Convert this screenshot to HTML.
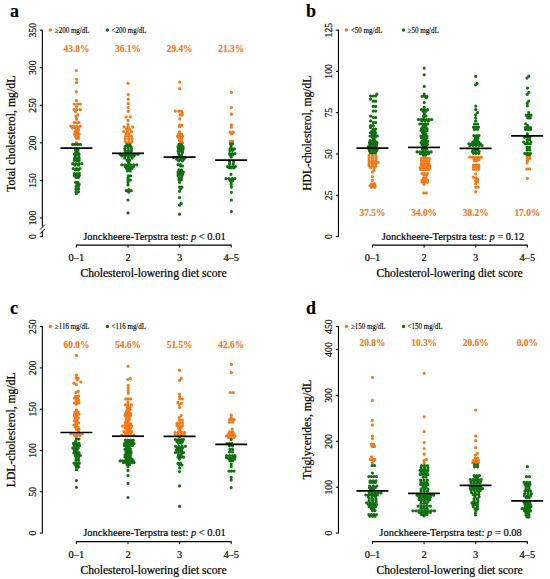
<!DOCTYPE html>
<html><head><meta charset="utf-8"><style>
html,body{margin:0;padding:0;background:#fff;}
svg{display:block;font-family:"Liberation Serif", serif;}
</style></head><body>
<svg width="550" height="579" viewBox="0 0 550 579">
<rect width="550" height="579" fill="#fff"/>
<text x="10.00" y="17.40" font-size="18" font-weight="bold" text-anchor="start" fill="#000" stroke="#000" stroke-width="0.15">a</text>
<line x1="42.35" y1="29.70" x2="42.35" y2="226.60" stroke="#000" stroke-width="1.1"/>
<line x1="42.35" y1="231.00" x2="42.35" y2="237.10" stroke="#000" stroke-width="1.1"/>
<path d="M40.05 229.50 L44.85 224.60 M40.05 233.70 L44.85 228.80" stroke="#000" stroke-width="1.0" fill="none"/>
<line x1="39.75" y1="30.20" x2="42.35" y2="30.20" stroke="#000" stroke-width="1.0"/>
<text x="36.20" y="30.20" font-size="9.8" font-weight="normal" text-anchor="middle" fill="#000" stroke="#000" stroke-width="0.178" transform="rotate(-90 36.20 30.20)">350</text>
<line x1="39.75" y1="67.76" x2="42.35" y2="67.76" stroke="#000" stroke-width="1.0"/>
<text x="36.20" y="67.76" font-size="9.8" font-weight="normal" text-anchor="middle" fill="#000" stroke="#000" stroke-width="0.178" transform="rotate(-90 36.20 67.76)">300</text>
<line x1="39.75" y1="105.32" x2="42.35" y2="105.32" stroke="#000" stroke-width="1.0"/>
<text x="36.20" y="105.32" font-size="9.8" font-weight="normal" text-anchor="middle" fill="#000" stroke="#000" stroke-width="0.178" transform="rotate(-90 36.20 105.32)">250</text>
<line x1="39.75" y1="142.88" x2="42.35" y2="142.88" stroke="#000" stroke-width="1.0"/>
<text x="36.20" y="142.88" font-size="9.8" font-weight="normal" text-anchor="middle" fill="#000" stroke="#000" stroke-width="0.178" transform="rotate(-90 36.20 142.88)">200</text>
<line x1="39.75" y1="180.44" x2="42.35" y2="180.44" stroke="#000" stroke-width="1.0"/>
<text x="36.20" y="180.44" font-size="9.8" font-weight="normal" text-anchor="middle" fill="#000" stroke="#000" stroke-width="0.178" transform="rotate(-90 36.20 180.44)">150</text>
<line x1="39.75" y1="218.00" x2="42.35" y2="218.00" stroke="#000" stroke-width="1.0"/>
<text x="36.20" y="218.00" font-size="9.8" font-weight="normal" text-anchor="middle" fill="#000" stroke="#000" stroke-width="0.178" transform="rotate(-90 36.20 218.00)">100</text>
<line x1="39.75" y1="236.60" x2="42.35" y2="236.60" stroke="#000" stroke-width="1.0"/>
<text x="36.20" y="236.60" font-size="9.8" font-weight="normal" text-anchor="middle" fill="#000" stroke="#000" stroke-width="0.178" transform="rotate(-90 36.20 236.60)">0</text>
<text x="15.30" y="133.70" font-size="11.8" font-weight="normal" text-anchor="middle" fill="#000" stroke="#000" stroke-width="0.215" transform="rotate(-90 15.30 133.70)">Total cholesterol, mg/dL</text>
<circle cx="50.30" cy="30.10" r="1.75" fill="#f27a18"/>
<text x="54.80" y="32.60" font-size="7.6" font-weight="normal" text-anchor="start" fill="#000" stroke="#000" stroke-width="0.138" textLength="34.76" lengthAdjust="spacingAndGlyphs">≥200 mg/dL</text>
<circle cx="107.40" cy="30.10" r="1.75" fill="#107010"/>
<text x="111.50" y="32.60" font-size="7.6" font-weight="normal" text-anchor="start" fill="#000" stroke="#000" stroke-width="0.138" textLength="34.86" lengthAdjust="spacingAndGlyphs">&lt;200 mg/dL</text>
<text x="76.40" y="52.20" font-size="9.4" font-weight="bold" text-anchor="middle" fill="#f27a18" stroke="#f27a18" stroke-width="0.15">43.8%</text>
<text x="128.00" y="52.20" font-size="9.4" font-weight="bold" text-anchor="middle" fill="#f27a18" stroke="#f27a18" stroke-width="0.15">36.1%</text>
<text x="179.60" y="52.20" font-size="9.4" font-weight="bold" text-anchor="middle" fill="#f27a18" stroke="#f27a18" stroke-width="0.15">29.4%</text>
<text x="231.20" y="52.20" font-size="9.4" font-weight="bold" text-anchor="middle" fill="#f27a18" stroke="#f27a18" stroke-width="0.15">21.3%</text>
<line x1="76.40" y1="245.10" x2="231.20" y2="245.10" stroke="#000" stroke-width="1.1"/>
<line x1="76.40" y1="244.60" x2="76.40" y2="247.60" stroke="#000" stroke-width="1.0"/>
<line x1="128.00" y1="244.60" x2="128.00" y2="247.60" stroke="#000" stroke-width="1.0"/>
<line x1="179.60" y1="244.60" x2="179.60" y2="247.60" stroke="#000" stroke-width="1.0"/>
<line x1="231.20" y1="244.60" x2="231.20" y2="247.60" stroke="#000" stroke-width="1.0"/>
<text x="154.50" y="239.60" font-size="10.5" font-weight="normal" text-anchor="middle" fill="#000" stroke="#000" stroke-width="0.191">Jonckheere-Terpstra test: <tspan font-style="italic">p</tspan> &lt; 0.01</text>
<text x="76.40" y="261.00" font-size="10.4" font-weight="normal" text-anchor="middle" fill="#000" stroke="#000" stroke-width="0.189">0–1</text>
<text x="128.00" y="261.00" font-size="10.4" font-weight="normal" text-anchor="middle" fill="#000" stroke="#000" stroke-width="0.189">2</text>
<text x="179.60" y="261.00" font-size="10.4" font-weight="normal" text-anchor="middle" fill="#000" stroke="#000" stroke-width="0.189">3</text>
<text x="231.20" y="261.00" font-size="10.4" font-weight="normal" text-anchor="middle" fill="#000" stroke="#000" stroke-width="0.189">4–5</text>
<text x="153.50" y="277.40" font-size="11.6" font-weight="normal" text-anchor="middle" fill="#000" stroke="#000" stroke-width="0.211">Cholesterol-lowering diet score</text>
<text x="306.10" y="17.40" font-size="18" font-weight="bold" text-anchor="start" fill="#000" stroke="#000" stroke-width="0.15">b</text>
<line x1="338.45" y1="29.60" x2="338.45" y2="237.10" stroke="#000" stroke-width="1.1"/>
<line x1="335.85" y1="30.10" x2="338.45" y2="30.10" stroke="#000" stroke-width="1.0"/>
<text x="332.30" y="30.10" font-size="9.8" font-weight="normal" text-anchor="middle" fill="#000" stroke="#000" stroke-width="0.178" transform="rotate(-90 332.30 30.10)">125</text>
<line x1="335.85" y1="71.40" x2="338.45" y2="71.40" stroke="#000" stroke-width="1.0"/>
<text x="332.30" y="71.40" font-size="9.8" font-weight="normal" text-anchor="middle" fill="#000" stroke="#000" stroke-width="0.178" transform="rotate(-90 332.30 71.40)">100</text>
<line x1="335.85" y1="112.70" x2="338.45" y2="112.70" stroke="#000" stroke-width="1.0"/>
<text x="332.30" y="112.70" font-size="9.8" font-weight="normal" text-anchor="middle" fill="#000" stroke="#000" stroke-width="0.178" transform="rotate(-90 332.30 112.70)">75</text>
<line x1="335.85" y1="154.00" x2="338.45" y2="154.00" stroke="#000" stroke-width="1.0"/>
<text x="332.30" y="154.00" font-size="9.8" font-weight="normal" text-anchor="middle" fill="#000" stroke="#000" stroke-width="0.178" transform="rotate(-90 332.30 154.00)">50</text>
<line x1="335.85" y1="195.30" x2="338.45" y2="195.30" stroke="#000" stroke-width="1.0"/>
<text x="332.30" y="195.30" font-size="9.8" font-weight="normal" text-anchor="middle" fill="#000" stroke="#000" stroke-width="0.178" transform="rotate(-90 332.30 195.30)">25</text>
<line x1="335.85" y1="236.60" x2="338.45" y2="236.60" stroke="#000" stroke-width="1.0"/>
<text x="332.30" y="236.60" font-size="9.8" font-weight="normal" text-anchor="middle" fill="#000" stroke="#000" stroke-width="0.178" transform="rotate(-90 332.30 236.60)">0</text>
<text x="311.40" y="133.20" font-size="11.6" font-weight="normal" text-anchor="middle" fill="#000" stroke="#000" stroke-width="0.211" transform="rotate(-90 311.40 133.20)">HDL-cholesterol, mg/dL</text>
<circle cx="346.40" cy="30.10" r="1.75" fill="#f27a18"/>
<text x="350.90" y="32.60" font-size="7.6" font-weight="normal" text-anchor="start" fill="#000" stroke="#000" stroke-width="0.138" textLength="31.36" lengthAdjust="spacingAndGlyphs">&lt;50 mg/dL</text>
<circle cx="403.50" cy="30.10" r="1.75" fill="#107010"/>
<text x="407.60" y="32.60" font-size="7.6" font-weight="normal" text-anchor="start" fill="#000" stroke="#000" stroke-width="0.138" textLength="31.26" lengthAdjust="spacingAndGlyphs">≥50 mg/dL</text>
<text x="372.50" y="215.70" font-size="9.4" font-weight="bold" text-anchor="middle" fill="#f27a18" stroke="#f27a18" stroke-width="0.15">37.5%</text>
<text x="424.10" y="215.70" font-size="9.4" font-weight="bold" text-anchor="middle" fill="#f27a18" stroke="#f27a18" stroke-width="0.15">34.0%</text>
<text x="475.70" y="215.70" font-size="9.4" font-weight="bold" text-anchor="middle" fill="#f27a18" stroke="#f27a18" stroke-width="0.15">38.2%</text>
<text x="527.30" y="215.70" font-size="9.4" font-weight="bold" text-anchor="middle" fill="#f27a18" stroke="#f27a18" stroke-width="0.15">17.0%</text>
<line x1="372.50" y1="245.10" x2="527.30" y2="245.10" stroke="#000" stroke-width="1.1"/>
<line x1="372.50" y1="244.60" x2="372.50" y2="247.60" stroke="#000" stroke-width="1.0"/>
<line x1="424.10" y1="244.60" x2="424.10" y2="247.60" stroke="#000" stroke-width="1.0"/>
<line x1="475.70" y1="244.60" x2="475.70" y2="247.60" stroke="#000" stroke-width="1.0"/>
<line x1="527.30" y1="244.60" x2="527.30" y2="247.60" stroke="#000" stroke-width="1.0"/>
<text x="453.00" y="239.60" font-size="10.5" font-weight="normal" text-anchor="middle" fill="#000" stroke="#000" stroke-width="0.191">Jonckheere-Terpstra test: <tspan font-style="italic">p</tspan> = 0.12</text>
<text x="372.50" y="261.00" font-size="10.4" font-weight="normal" text-anchor="middle" fill="#000" stroke="#000" stroke-width="0.189">0–1</text>
<text x="424.10" y="261.00" font-size="10.4" font-weight="normal" text-anchor="middle" fill="#000" stroke="#000" stroke-width="0.189">2</text>
<text x="475.70" y="261.00" font-size="10.4" font-weight="normal" text-anchor="middle" fill="#000" stroke="#000" stroke-width="0.189">3</text>
<text x="527.30" y="261.00" font-size="10.4" font-weight="normal" text-anchor="middle" fill="#000" stroke="#000" stroke-width="0.189">4–5</text>
<text x="449.60" y="277.40" font-size="11.6" font-weight="normal" text-anchor="middle" fill="#000" stroke="#000" stroke-width="0.211">Cholesterol-lowering diet score</text>
<text x="10.00" y="313.90" font-size="18" font-weight="bold" text-anchor="start" fill="#000" stroke="#000" stroke-width="0.15">c</text>
<line x1="42.35" y1="326.10" x2="42.35" y2="533.60" stroke="#000" stroke-width="1.1"/>
<line x1="39.75" y1="326.60" x2="42.35" y2="326.60" stroke="#000" stroke-width="1.0"/>
<text x="36.20" y="326.60" font-size="9.8" font-weight="normal" text-anchor="middle" fill="#000" stroke="#000" stroke-width="0.178" transform="rotate(-90 36.20 326.60)">250</text>
<line x1="39.75" y1="367.90" x2="42.35" y2="367.90" stroke="#000" stroke-width="1.0"/>
<text x="36.20" y="367.90" font-size="9.8" font-weight="normal" text-anchor="middle" fill="#000" stroke="#000" stroke-width="0.178" transform="rotate(-90 36.20 367.90)">200</text>
<line x1="39.75" y1="409.20" x2="42.35" y2="409.20" stroke="#000" stroke-width="1.0"/>
<text x="36.20" y="409.20" font-size="9.8" font-weight="normal" text-anchor="middle" fill="#000" stroke="#000" stroke-width="0.178" transform="rotate(-90 36.20 409.20)">150</text>
<line x1="39.75" y1="450.50" x2="42.35" y2="450.50" stroke="#000" stroke-width="1.0"/>
<text x="36.20" y="450.50" font-size="9.8" font-weight="normal" text-anchor="middle" fill="#000" stroke="#000" stroke-width="0.178" transform="rotate(-90 36.20 450.50)">100</text>
<line x1="39.75" y1="491.80" x2="42.35" y2="491.80" stroke="#000" stroke-width="1.0"/>
<text x="36.20" y="491.80" font-size="9.8" font-weight="normal" text-anchor="middle" fill="#000" stroke="#000" stroke-width="0.178" transform="rotate(-90 36.20 491.80)">50</text>
<line x1="39.75" y1="533.10" x2="42.35" y2="533.10" stroke="#000" stroke-width="1.0"/>
<text x="36.20" y="533.10" font-size="9.8" font-weight="normal" text-anchor="middle" fill="#000" stroke="#000" stroke-width="0.178" transform="rotate(-90 36.20 533.10)">0</text>
<text x="15.30" y="429.80" font-size="11.7" font-weight="normal" text-anchor="middle" fill="#000" stroke="#000" stroke-width="0.213" transform="rotate(-90 15.30 429.80)">LDL-cholesterol, mg/dL</text>
<circle cx="50.30" cy="326.60" r="1.75" fill="#f27a18"/>
<text x="54.80" y="329.10" font-size="7.6" font-weight="normal" text-anchor="start" fill="#000" stroke="#000" stroke-width="0.138" textLength="34.5" lengthAdjust="spacingAndGlyphs">≥116 mg/dL</text>
<circle cx="107.40" cy="326.60" r="1.75" fill="#107010"/>
<text x="111.50" y="329.10" font-size="7.6" font-weight="normal" text-anchor="start" fill="#000" stroke="#000" stroke-width="0.138" textLength="34.6" lengthAdjust="spacingAndGlyphs">&lt;116 mg/dL</text>
<text x="76.40" y="348.20" font-size="9.4" font-weight="bold" text-anchor="middle" fill="#f27a18" stroke="#f27a18" stroke-width="0.15">60.0%</text>
<text x="128.00" y="348.20" font-size="9.4" font-weight="bold" text-anchor="middle" fill="#f27a18" stroke="#f27a18" stroke-width="0.15">54.6%</text>
<text x="179.60" y="348.20" font-size="9.4" font-weight="bold" text-anchor="middle" fill="#f27a18" stroke="#f27a18" stroke-width="0.15">51.5%</text>
<text x="231.20" y="348.20" font-size="9.4" font-weight="bold" text-anchor="middle" fill="#f27a18" stroke="#f27a18" stroke-width="0.15">42.6%</text>
<line x1="76.40" y1="541.60" x2="231.20" y2="541.60" stroke="#000" stroke-width="1.1"/>
<line x1="76.40" y1="541.10" x2="76.40" y2="544.10" stroke="#000" stroke-width="1.0"/>
<line x1="128.00" y1="541.10" x2="128.00" y2="544.10" stroke="#000" stroke-width="1.0"/>
<line x1="179.60" y1="541.10" x2="179.60" y2="544.10" stroke="#000" stroke-width="1.0"/>
<line x1="231.20" y1="541.10" x2="231.20" y2="544.10" stroke="#000" stroke-width="1.0"/>
<text x="154.50" y="536.10" font-size="10.5" font-weight="normal" text-anchor="middle" fill="#000" stroke="#000" stroke-width="0.191">Jonckheere-Terpstra test: <tspan font-style="italic">p</tspan> &lt; 0.01</text>
<text x="76.40" y="557.50" font-size="10.4" font-weight="normal" text-anchor="middle" fill="#000" stroke="#000" stroke-width="0.189">0–1</text>
<text x="128.00" y="557.50" font-size="10.4" font-weight="normal" text-anchor="middle" fill="#000" stroke="#000" stroke-width="0.189">2</text>
<text x="179.60" y="557.50" font-size="10.4" font-weight="normal" text-anchor="middle" fill="#000" stroke="#000" stroke-width="0.189">3</text>
<text x="231.20" y="557.50" font-size="10.4" font-weight="normal" text-anchor="middle" fill="#000" stroke="#000" stroke-width="0.189">4–5</text>
<text x="153.50" y="573.90" font-size="11.6" font-weight="normal" text-anchor="middle" fill="#000" stroke="#000" stroke-width="0.211">Cholesterol-lowering diet score</text>
<text x="306.10" y="313.90" font-size="18" font-weight="bold" text-anchor="start" fill="#000" stroke="#000" stroke-width="0.15">d</text>
<line x1="338.45" y1="326.10" x2="338.45" y2="533.60" stroke="#000" stroke-width="1.1"/>
<line x1="335.85" y1="326.60" x2="338.45" y2="326.60" stroke="#000" stroke-width="1.0"/>
<text x="332.30" y="326.60" font-size="9.8" font-weight="normal" text-anchor="middle" fill="#000" stroke="#000" stroke-width="0.178" transform="rotate(-90 332.30 326.60)">450</text>
<line x1="335.85" y1="349.54" x2="338.45" y2="349.54" stroke="#000" stroke-width="1.0"/>
<text x="332.30" y="349.54" font-size="9.8" font-weight="normal" text-anchor="middle" fill="#000" stroke="#000" stroke-width="0.178" transform="rotate(-90 332.30 349.54)">400</text>
<line x1="335.85" y1="395.43" x2="338.45" y2="395.43" stroke="#000" stroke-width="1.0"/>
<text x="332.30" y="395.43" font-size="9.8" font-weight="normal" text-anchor="middle" fill="#000" stroke="#000" stroke-width="0.178" transform="rotate(-90 332.30 395.43)">300</text>
<line x1="335.85" y1="441.32" x2="338.45" y2="441.32" stroke="#000" stroke-width="1.0"/>
<text x="332.30" y="441.32" font-size="9.8" font-weight="normal" text-anchor="middle" fill="#000" stroke="#000" stroke-width="0.178" transform="rotate(-90 332.30 441.32)">200</text>
<line x1="335.85" y1="487.21" x2="338.45" y2="487.21" stroke="#000" stroke-width="1.0"/>
<text x="332.30" y="487.21" font-size="9.8" font-weight="normal" text-anchor="middle" fill="#000" stroke="#000" stroke-width="0.178" transform="rotate(-90 332.30 487.21)">100</text>
<line x1="335.85" y1="533.10" x2="338.45" y2="533.10" stroke="#000" stroke-width="1.0"/>
<text x="332.30" y="533.10" font-size="9.8" font-weight="normal" text-anchor="middle" fill="#000" stroke="#000" stroke-width="0.178" transform="rotate(-90 332.30 533.10)">0</text>
<text x="311.40" y="429.60" font-size="11.8" font-weight="normal" text-anchor="middle" fill="#000" stroke="#000" stroke-width="0.215" transform="rotate(-90 311.40 429.60)">Triglycerides, mg/dL</text>
<circle cx="346.40" cy="326.60" r="1.75" fill="#f27a18"/>
<text x="350.90" y="329.10" font-size="7.6" font-weight="normal" text-anchor="start" fill="#000" stroke="#000" stroke-width="0.138" textLength="34.76" lengthAdjust="spacingAndGlyphs">≥150 mg/dL</text>
<circle cx="403.50" cy="326.60" r="1.75" fill="#107010"/>
<text x="407.60" y="329.10" font-size="7.6" font-weight="normal" text-anchor="start" fill="#000" stroke="#000" stroke-width="0.138" textLength="34.86" lengthAdjust="spacingAndGlyphs">&lt;150 mg/dL</text>
<text x="372.50" y="346.10" font-size="9.4" font-weight="bold" text-anchor="middle" fill="#f27a18" stroke="#f27a18" stroke-width="0.15">20.8%</text>
<text x="424.10" y="346.10" font-size="9.4" font-weight="bold" text-anchor="middle" fill="#f27a18" stroke="#f27a18" stroke-width="0.15">10.3%</text>
<text x="475.70" y="346.10" font-size="9.4" font-weight="bold" text-anchor="middle" fill="#f27a18" stroke="#f27a18" stroke-width="0.15">20.6%</text>
<text x="527.30" y="346.10" font-size="9.4" font-weight="bold" text-anchor="middle" fill="#f27a18" stroke="#f27a18" stroke-width="0.15">0.0%</text>
<line x1="372.50" y1="541.60" x2="527.30" y2="541.60" stroke="#000" stroke-width="1.1"/>
<line x1="372.50" y1="541.10" x2="372.50" y2="544.10" stroke="#000" stroke-width="1.0"/>
<line x1="424.10" y1="541.10" x2="424.10" y2="544.10" stroke="#000" stroke-width="1.0"/>
<line x1="475.70" y1="541.10" x2="475.70" y2="544.10" stroke="#000" stroke-width="1.0"/>
<line x1="527.30" y1="541.10" x2="527.30" y2="544.10" stroke="#000" stroke-width="1.0"/>
<text x="450.60" y="536.10" font-size="10.5" font-weight="normal" text-anchor="middle" fill="#000" stroke="#000" stroke-width="0.191">Jonckheere-Terpstra test: <tspan font-style="italic">p</tspan> = 0.08</text>
<text x="372.50" y="557.50" font-size="10.4" font-weight="normal" text-anchor="middle" fill="#000" stroke="#000" stroke-width="0.189">0–1</text>
<text x="424.10" y="557.50" font-size="10.4" font-weight="normal" text-anchor="middle" fill="#000" stroke="#000" stroke-width="0.189">2</text>
<text x="475.70" y="557.50" font-size="10.4" font-weight="normal" text-anchor="middle" fill="#000" stroke="#000" stroke-width="0.189">3</text>
<text x="527.30" y="557.50" font-size="10.4" font-weight="normal" text-anchor="middle" fill="#000" stroke="#000" stroke-width="0.189">4–5</text>
<text x="449.60" y="573.90" font-size="11.6" font-weight="normal" text-anchor="middle" fill="#000" stroke="#000" stroke-width="0.211">Cholesterol-lowering diet score</text>
<path fill="#f27a18" d="M74.70 70.60a1.6 1.6 0 1 0 3.2 0a1.6 1.6 0 1 0 -3.2 0M75.00 79.30a1.6 1.6 0 1 0 3.2 0a1.6 1.6 0 1 0 -3.2 0M75.00 82.70a1.6 1.6 0 1 0 3.2 0a1.6 1.6 0 1 0 -3.2 0M74.70 91.80a1.6 1.6 0 1 0 3.2 0a1.6 1.6 0 1 0 -3.2 0M74.80 100.60a1.6 1.6 0 1 0 3.2 0a1.6 1.6 0 1 0 -3.2 0M72.60 104.00a1.6 1.6 0 1 0 3.2 0a1.6 1.6 0 1 0 -3.2 0M75.90 104.00a1.6 1.6 0 1 0 3.2 0a1.6 1.6 0 1 0 -3.2 0M78.70 104.00a1.6 1.6 0 1 0 3.2 0a1.6 1.6 0 1 0 -3.2 0M74.80 106.60a1.6 1.6 0 1 0 3.2 0a1.6 1.6 0 1 0 -3.2 0M72.60 109.70a1.6 1.6 0 1 0 3.2 0a1.6 1.6 0 1 0 -3.2 0M75.20 109.70a1.6 1.6 0 1 0 3.2 0a1.6 1.6 0 1 0 -3.2 0M78.70 109.70a1.6 1.6 0 1 0 3.2 0a1.6 1.6 0 1 0 -3.2 0M73.90 111.40a1.6 1.6 0 1 0 3.2 0a1.6 1.6 0 1 0 -3.2 0M76.10 114.80a1.6 1.6 0 1 0 3.2 0a1.6 1.6 0 1 0 -3.2 0M74.40 116.60a1.6 1.6 0 1 0 3.2 0a1.6 1.6 0 1 0 -3.2 0M74.80 119.20a1.6 1.6 0 1 0 3.2 0a1.6 1.6 0 1 0 -3.2 0M72.60 122.60a1.6 1.6 0 1 0 3.2 0a1.6 1.6 0 1 0 -3.2 0M75.20 122.60a1.6 1.6 0 1 0 3.2 0a1.6 1.6 0 1 0 -3.2 0M77.40 122.60a1.6 1.6 0 1 0 3.2 0a1.6 1.6 0 1 0 -3.2 0M69.20 126.10a1.6 1.6 0 1 0 3.2 0a1.6 1.6 0 1 0 -3.2 0M71.80 126.10a1.6 1.6 0 1 0 3.2 0a1.6 1.6 0 1 0 -3.2 0M75.20 126.10a1.6 1.6 0 1 0 3.2 0a1.6 1.6 0 1 0 -3.2 0M78.70 126.10a1.6 1.6 0 1 0 3.2 0a1.6 1.6 0 1 0 -3.2 0M70.90 127.80a1.6 1.6 0 1 0 3.2 0a1.6 1.6 0 1 0 -3.2 0M73.70 127.80a1.6 1.6 0 1 0 3.2 0a1.6 1.6 0 1 0 -3.2 0M76.70 127.80a1.6 1.6 0 1 0 3.2 0a1.6 1.6 0 1 0 -3.2 0M74.40 130.00a1.6 1.6 0 1 0 3.2 0a1.6 1.6 0 1 0 -3.2 0M76.90 130.00a1.6 1.6 0 1 0 3.2 0a1.6 1.6 0 1 0 -3.2 0M73.40 132.10a1.6 1.6 0 1 0 3.2 0a1.6 1.6 0 1 0 -3.2 0M76.20 132.10a1.6 1.6 0 1 0 3.2 0a1.6 1.6 0 1 0 -3.2 0M72.90 134.30a1.6 1.6 0 1 0 3.2 0a1.6 1.6 0 1 0 -3.2 0M75.40 134.30a1.6 1.6 0 1 0 3.2 0a1.6 1.6 0 1 0 -3.2 0M77.60 134.30a1.6 1.6 0 1 0 3.2 0a1.6 1.6 0 1 0 -3.2 0M74.10 136.40a1.6 1.6 0 1 0 3.2 0a1.6 1.6 0 1 0 -3.2 0M76.70 136.40a1.6 1.6 0 1 0 3.2 0a1.6 1.6 0 1 0 -3.2 0M74.80 138.30a1.6 1.6 0 1 0 3.2 0a1.6 1.6 0 1 0 -3.2 0M77.00 138.30a1.6 1.6 0 1 0 3.2 0a1.6 1.6 0 1 0 -3.2 0M74.80 142.50a1.6 1.6 0 1 0 3.2 0a1.6 1.6 0 1 0 -3.2 0M126.40 83.40a1.6 1.6 0 1 0 3.2 0a1.6 1.6 0 1 0 -3.2 0M126.60 94.60a1.6 1.6 0 1 0 3.2 0a1.6 1.6 0 1 0 -3.2 0M126.60 99.20a1.6 1.6 0 1 0 3.2 0a1.6 1.6 0 1 0 -3.2 0M126.60 103.70a1.6 1.6 0 1 0 3.2 0a1.6 1.6 0 1 0 -3.2 0M126.60 107.50a1.6 1.6 0 1 0 3.2 0a1.6 1.6 0 1 0 -3.2 0M126.60 111.40a1.6 1.6 0 1 0 3.2 0a1.6 1.6 0 1 0 -3.2 0M124.50 116.90a1.6 1.6 0 1 0 3.2 0a1.6 1.6 0 1 0 -3.2 0M128.70 116.90a1.6 1.6 0 1 0 3.2 0a1.6 1.6 0 1 0 -3.2 0M126.40 120.40a1.6 1.6 0 1 0 3.2 0a1.6 1.6 0 1 0 -3.2 0M126.40 124.30a1.6 1.6 0 1 0 3.2 0a1.6 1.6 0 1 0 -3.2 0M122.50 126.90a1.6 1.6 0 1 0 3.2 0a1.6 1.6 0 1 0 -3.2 0M126.40 126.90a1.6 1.6 0 1 0 3.2 0a1.6 1.6 0 1 0 -3.2 0M131.10 126.90a1.6 1.6 0 1 0 3.2 0a1.6 1.6 0 1 0 -3.2 0M124.90 129.10a1.6 1.6 0 1 0 3.2 0a1.6 1.6 0 1 0 -3.2 0M127.90 129.10a1.6 1.6 0 1 0 3.2 0a1.6 1.6 0 1 0 -3.2 0M122.10 131.70a1.6 1.6 0 1 0 3.2 0a1.6 1.6 0 1 0 -3.2 0M125.90 131.70a1.6 1.6 0 1 0 3.2 0a1.6 1.6 0 1 0 -3.2 0M129.90 131.70a1.6 1.6 0 1 0 3.2 0a1.6 1.6 0 1 0 -3.2 0M124.70 133.80a1.6 1.6 0 1 0 3.2 0a1.6 1.6 0 1 0 -3.2 0M127.40 133.80a1.6 1.6 0 1 0 3.2 0a1.6 1.6 0 1 0 -3.2 0M124.00 136.30a1.6 1.6 0 1 0 3.2 0a1.6 1.6 0 1 0 -3.2 0M126.90 136.30a1.6 1.6 0 1 0 3.2 0a1.6 1.6 0 1 0 -3.2 0M129.80 136.30a1.6 1.6 0 1 0 3.2 0a1.6 1.6 0 1 0 -3.2 0M123.60 138.70a1.6 1.6 0 1 0 3.2 0a1.6 1.6 0 1 0 -3.2 0M127.00 138.70a1.6 1.6 0 1 0 3.2 0a1.6 1.6 0 1 0 -3.2 0M130.40 138.70a1.6 1.6 0 1 0 3.2 0a1.6 1.6 0 1 0 -3.2 0M123.60 141.00a1.6 1.6 0 1 0 3.2 0a1.6 1.6 0 1 0 -3.2 0M127.00 141.00a1.6 1.6 0 1 0 3.2 0a1.6 1.6 0 1 0 -3.2 0M130.40 141.00a1.6 1.6 0 1 0 3.2 0a1.6 1.6 0 1 0 -3.2 0M124.50 143.00a1.6 1.6 0 1 0 3.2 0a1.6 1.6 0 1 0 -3.2 0M126.90 143.00a1.6 1.6 0 1 0 3.2 0a1.6 1.6 0 1 0 -3.2 0M129.30 143.00a1.6 1.6 0 1 0 3.2 0a1.6 1.6 0 1 0 -3.2 0M178.10 82.10a1.6 1.6 0 1 0 3.2 0a1.6 1.6 0 1 0 -3.2 0M178.10 88.70a1.6 1.6 0 1 0 3.2 0a1.6 1.6 0 1 0 -3.2 0M173.70 111.20a1.6 1.6 0 1 0 3.2 0a1.6 1.6 0 1 0 -3.2 0M177.10 111.20a1.6 1.6 0 1 0 3.2 0a1.6 1.6 0 1 0 -3.2 0M179.60 111.20a1.6 1.6 0 1 0 3.2 0a1.6 1.6 0 1 0 -3.2 0M180.70 112.60a1.6 1.6 0 1 0 3.2 0a1.6 1.6 0 1 0 -3.2 0M178.60 114.80a1.6 1.6 0 1 0 3.2 0a1.6 1.6 0 1 0 -3.2 0M180.70 114.80a1.6 1.6 0 1 0 3.2 0a1.6 1.6 0 1 0 -3.2 0M178.10 118.90a1.6 1.6 0 1 0 3.2 0a1.6 1.6 0 1 0 -3.2 0M178.00 125.20a1.6 1.6 0 1 0 3.2 0a1.6 1.6 0 1 0 -3.2 0M180.40 125.20a1.6 1.6 0 1 0 3.2 0a1.6 1.6 0 1 0 -3.2 0M177.90 126.70a1.6 1.6 0 1 0 3.2 0a1.6 1.6 0 1 0 -3.2 0M177.90 131.90a1.6 1.6 0 1 0 3.2 0a1.6 1.6 0 1 0 -3.2 0M177.10 134.10a1.6 1.6 0 1 0 3.2 0a1.6 1.6 0 1 0 -3.2 0M179.90 134.10a1.6 1.6 0 1 0 3.2 0a1.6 1.6 0 1 0 -3.2 0M175.90 136.20a1.6 1.6 0 1 0 3.2 0a1.6 1.6 0 1 0 -3.2 0M178.40 136.20a1.6 1.6 0 1 0 3.2 0a1.6 1.6 0 1 0 -3.2 0M180.90 136.20a1.6 1.6 0 1 0 3.2 0a1.6 1.6 0 1 0 -3.2 0M177.40 138.00a1.6 1.6 0 1 0 3.2 0a1.6 1.6 0 1 0 -3.2 0M179.90 138.00a1.6 1.6 0 1 0 3.2 0a1.6 1.6 0 1 0 -3.2 0M177.60 140.50a1.6 1.6 0 1 0 3.2 0a1.6 1.6 0 1 0 -3.2 0M180.10 140.50a1.6 1.6 0 1 0 3.2 0a1.6 1.6 0 1 0 -3.2 0M178.90 142.70a1.6 1.6 0 1 0 3.2 0a1.6 1.6 0 1 0 -3.2 0M180.90 142.70a1.6 1.6 0 1 0 3.2 0a1.6 1.6 0 1 0 -3.2 0M229.80 92.40a1.6 1.6 0 1 0 3.2 0a1.6 1.6 0 1 0 -3.2 0M229.80 107.50a1.6 1.6 0 1 0 3.2 0a1.6 1.6 0 1 0 -3.2 0M229.80 114.20a1.6 1.6 0 1 0 3.2 0a1.6 1.6 0 1 0 -3.2 0M229.80 124.80a1.6 1.6 0 1 0 3.2 0a1.6 1.6 0 1 0 -3.2 0M229.80 127.20a1.6 1.6 0 1 0 3.2 0a1.6 1.6 0 1 0 -3.2 0M228.60 132.20a1.6 1.6 0 1 0 3.2 0a1.6 1.6 0 1 0 -3.2 0M231.70 132.20a1.6 1.6 0 1 0 3.2 0a1.6 1.6 0 1 0 -3.2 0M230.10 134.00a1.6 1.6 0 1 0 3.2 0a1.6 1.6 0 1 0 -3.2 0M228.60 141.30a1.6 1.6 0 1 0 3.2 0a1.6 1.6 0 1 0 -3.2 0M231.20 141.30a1.6 1.6 0 1 0 3.2 0a1.6 1.6 0 1 0 -3.2 0M367.50 155.50a1.6 1.6 0 1 0 3.2 0a1.6 1.6 0 1 0 -3.2 0M370.90 155.50a1.6 1.6 0 1 0 3.2 0a1.6 1.6 0 1 0 -3.2 0M374.30 155.50a1.6 1.6 0 1 0 3.2 0a1.6 1.6 0 1 0 -3.2 0M367.50 157.30a1.6 1.6 0 1 0 3.2 0a1.6 1.6 0 1 0 -3.2 0M370.90 157.30a1.6 1.6 0 1 0 3.2 0a1.6 1.6 0 1 0 -3.2 0M374.30 157.30a1.6 1.6 0 1 0 3.2 0a1.6 1.6 0 1 0 -3.2 0M367.50 159.00a1.6 1.6 0 1 0 3.2 0a1.6 1.6 0 1 0 -3.2 0M370.90 159.00a1.6 1.6 0 1 0 3.2 0a1.6 1.6 0 1 0 -3.2 0M374.30 159.00a1.6 1.6 0 1 0 3.2 0a1.6 1.6 0 1 0 -3.2 0M367.50 160.70a1.6 1.6 0 1 0 3.2 0a1.6 1.6 0 1 0 -3.2 0M370.90 160.70a1.6 1.6 0 1 0 3.2 0a1.6 1.6 0 1 0 -3.2 0M374.30 160.70a1.6 1.6 0 1 0 3.2 0a1.6 1.6 0 1 0 -3.2 0M367.50 162.40a1.6 1.6 0 1 0 3.2 0a1.6 1.6 0 1 0 -3.2 0M370.47 162.40a1.6 1.6 0 1 0 3.2 0a1.6 1.6 0 1 0 -3.2 0M373.43 162.40a1.6 1.6 0 1 0 3.2 0a1.6 1.6 0 1 0 -3.2 0M376.40 162.40a1.6 1.6 0 1 0 3.2 0a1.6 1.6 0 1 0 -3.2 0M367.50 164.20a1.6 1.6 0 1 0 3.2 0a1.6 1.6 0 1 0 -3.2 0M370.90 164.20a1.6 1.6 0 1 0 3.2 0a1.6 1.6 0 1 0 -3.2 0M374.30 164.20a1.6 1.6 0 1 0 3.2 0a1.6 1.6 0 1 0 -3.2 0M367.50 165.90a1.6 1.6 0 1 0 3.2 0a1.6 1.6 0 1 0 -3.2 0M370.90 165.90a1.6 1.6 0 1 0 3.2 0a1.6 1.6 0 1 0 -3.2 0M374.30 165.90a1.6 1.6 0 1 0 3.2 0a1.6 1.6 0 1 0 -3.2 0M369.00 167.60a1.6 1.6 0 1 0 3.2 0a1.6 1.6 0 1 0 -3.2 0M372.60 167.60a1.6 1.6 0 1 0 3.2 0a1.6 1.6 0 1 0 -3.2 0M372.40 170.40a1.6 1.6 0 1 0 3.2 0a1.6 1.6 0 1 0 -3.2 0M370.80 172.10a1.6 1.6 0 1 0 3.2 0a1.6 1.6 0 1 0 -3.2 0M370.80 176.60a1.6 1.6 0 1 0 3.2 0a1.6 1.6 0 1 0 -3.2 0M370.80 180.40a1.6 1.6 0 1 0 3.2 0a1.6 1.6 0 1 0 -3.2 0M369.90 183.90a1.6 1.6 0 1 0 3.2 0a1.6 1.6 0 1 0 -3.2 0M372.90 183.90a1.6 1.6 0 1 0 3.2 0a1.6 1.6 0 1 0 -3.2 0M368.40 185.60a1.6 1.6 0 1 0 3.2 0a1.6 1.6 0 1 0 -3.2 0M371.10 185.60a1.6 1.6 0 1 0 3.2 0a1.6 1.6 0 1 0 -3.2 0M373.60 185.60a1.6 1.6 0 1 0 3.2 0a1.6 1.6 0 1 0 -3.2 0M369.90 187.30a1.6 1.6 0 1 0 3.2 0a1.6 1.6 0 1 0 -3.2 0M372.90 187.30a1.6 1.6 0 1 0 3.2 0a1.6 1.6 0 1 0 -3.2 0M422.80 156.20a1.6 1.6 0 1 0 3.2 0a1.6 1.6 0 1 0 -3.2 0M419.80 158.40a1.6 1.6 0 1 0 3.2 0a1.6 1.6 0 1 0 -3.2 0M422.47 158.40a1.6 1.6 0 1 0 3.2 0a1.6 1.6 0 1 0 -3.2 0M425.13 158.40a1.6 1.6 0 1 0 3.2 0a1.6 1.6 0 1 0 -3.2 0M427.80 158.40a1.6 1.6 0 1 0 3.2 0a1.6 1.6 0 1 0 -3.2 0M419.80 161.00a1.6 1.6 0 1 0 3.2 0a1.6 1.6 0 1 0 -3.2 0M422.30 161.00a1.6 1.6 0 1 0 3.2 0a1.6 1.6 0 1 0 -3.2 0M424.80 161.00a1.6 1.6 0 1 0 3.2 0a1.6 1.6 0 1 0 -3.2 0M427.30 161.00a1.6 1.6 0 1 0 3.2 0a1.6 1.6 0 1 0 -3.2 0M419.80 163.60a1.6 1.6 0 1 0 3.2 0a1.6 1.6 0 1 0 -3.2 0M422.30 163.60a1.6 1.6 0 1 0 3.2 0a1.6 1.6 0 1 0 -3.2 0M424.80 163.60a1.6 1.6 0 1 0 3.2 0a1.6 1.6 0 1 0 -3.2 0M427.30 163.60a1.6 1.6 0 1 0 3.2 0a1.6 1.6 0 1 0 -3.2 0M419.80 165.70a1.6 1.6 0 1 0 3.2 0a1.6 1.6 0 1 0 -3.2 0M422.60 165.70a1.6 1.6 0 1 0 3.2 0a1.6 1.6 0 1 0 -3.2 0M425.40 165.70a1.6 1.6 0 1 0 3.2 0a1.6 1.6 0 1 0 -3.2 0M428.20 165.70a1.6 1.6 0 1 0 3.2 0a1.6 1.6 0 1 0 -3.2 0M418.50 167.90a1.6 1.6 0 1 0 3.2 0a1.6 1.6 0 1 0 -3.2 0M421.73 167.90a1.6 1.6 0 1 0 3.2 0a1.6 1.6 0 1 0 -3.2 0M424.97 167.90a1.6 1.6 0 1 0 3.2 0a1.6 1.6 0 1 0 -3.2 0M428.20 167.90a1.6 1.6 0 1 0 3.2 0a1.6 1.6 0 1 0 -3.2 0M419.00 169.60a1.6 1.6 0 1 0 3.2 0a1.6 1.6 0 1 0 -3.2 0M421.63 169.60a1.6 1.6 0 1 0 3.2 0a1.6 1.6 0 1 0 -3.2 0M424.27 169.60a1.6 1.6 0 1 0 3.2 0a1.6 1.6 0 1 0 -3.2 0M426.90 169.60a1.6 1.6 0 1 0 3.2 0a1.6 1.6 0 1 0 -3.2 0M420.40 173.50a1.6 1.6 0 1 0 3.2 0a1.6 1.6 0 1 0 -3.2 0M423.10 173.50a1.6 1.6 0 1 0 3.2 0a1.6 1.6 0 1 0 -3.2 0M425.70 173.50a1.6 1.6 0 1 0 3.2 0a1.6 1.6 0 1 0 -3.2 0M422.40 175.20a1.6 1.6 0 1 0 3.2 0a1.6 1.6 0 1 0 -3.2 0M424.90 175.20a1.6 1.6 0 1 0 3.2 0a1.6 1.6 0 1 0 -3.2 0M421.90 178.20a1.6 1.6 0 1 0 3.2 0a1.6 1.6 0 1 0 -3.2 0M424.40 178.20a1.6 1.6 0 1 0 3.2 0a1.6 1.6 0 1 0 -3.2 0M420.40 180.40a1.6 1.6 0 1 0 3.2 0a1.6 1.6 0 1 0 -3.2 0M423.10 180.40a1.6 1.6 0 1 0 3.2 0a1.6 1.6 0 1 0 -3.2 0M425.90 180.40a1.6 1.6 0 1 0 3.2 0a1.6 1.6 0 1 0 -3.2 0M420.40 182.10a1.6 1.6 0 1 0 3.2 0a1.6 1.6 0 1 0 -3.2 0M423.10 182.10a1.6 1.6 0 1 0 3.2 0a1.6 1.6 0 1 0 -3.2 0M425.90 182.10a1.6 1.6 0 1 0 3.2 0a1.6 1.6 0 1 0 -3.2 0M422.40 184.30a1.6 1.6 0 1 0 3.2 0a1.6 1.6 0 1 0 -3.2 0M422.10 192.90a1.6 1.6 0 1 0 3.2 0a1.6 1.6 0 1 0 -3.2 0M424.70 192.90a1.6 1.6 0 1 0 3.2 0a1.6 1.6 0 1 0 -3.2 0M468.20 157.20a1.6 1.6 0 1 0 3.2 0a1.6 1.6 0 1 0 -3.2 0M471.07 157.20a1.6 1.6 0 1 0 3.2 0a1.6 1.6 0 1 0 -3.2 0M473.95 157.20a1.6 1.6 0 1 0 3.2 0a1.6 1.6 0 1 0 -3.2 0M476.82 157.20a1.6 1.6 0 1 0 3.2 0a1.6 1.6 0 1 0 -3.2 0M479.70 157.20a1.6 1.6 0 1 0 3.2 0a1.6 1.6 0 1 0 -3.2 0M472.40 159.40a1.6 1.6 0 1 0 3.2 0a1.6 1.6 0 1 0 -3.2 0M475.10 159.40a1.6 1.6 0 1 0 3.2 0a1.6 1.6 0 1 0 -3.2 0M477.40 159.40a1.6 1.6 0 1 0 3.2 0a1.6 1.6 0 1 0 -3.2 0M472.90 160.70a1.6 1.6 0 1 0 3.2 0a1.6 1.6 0 1 0 -3.2 0M475.60 160.70a1.6 1.6 0 1 0 3.2 0a1.6 1.6 0 1 0 -3.2 0M471.90 165.00a1.6 1.6 0 1 0 3.2 0a1.6 1.6 0 1 0 -3.2 0M474.60 165.00a1.6 1.6 0 1 0 3.2 0a1.6 1.6 0 1 0 -3.2 0M477.20 165.00a1.6 1.6 0 1 0 3.2 0a1.6 1.6 0 1 0 -3.2 0M471.90 167.10a1.6 1.6 0 1 0 3.2 0a1.6 1.6 0 1 0 -3.2 0M474.60 167.10a1.6 1.6 0 1 0 3.2 0a1.6 1.6 0 1 0 -3.2 0M477.20 167.10a1.6 1.6 0 1 0 3.2 0a1.6 1.6 0 1 0 -3.2 0M471.90 169.30a1.6 1.6 0 1 0 3.2 0a1.6 1.6 0 1 0 -3.2 0M474.60 169.30a1.6 1.6 0 1 0 3.2 0a1.6 1.6 0 1 0 -3.2 0M477.20 169.30a1.6 1.6 0 1 0 3.2 0a1.6 1.6 0 1 0 -3.2 0M474.10 173.80a1.6 1.6 0 1 0 3.2 0a1.6 1.6 0 1 0 -3.2 0M471.70 177.10a1.6 1.6 0 1 0 3.2 0a1.6 1.6 0 1 0 -3.2 0M474.40 178.00a1.6 1.6 0 1 0 3.2 0a1.6 1.6 0 1 0 -3.2 0M476.20 179.20a1.6 1.6 0 1 0 3.2 0a1.6 1.6 0 1 0 -3.2 0M474.10 180.70a1.6 1.6 0 1 0 3.2 0a1.6 1.6 0 1 0 -3.2 0M475.90 182.20a1.6 1.6 0 1 0 3.2 0a1.6 1.6 0 1 0 -3.2 0M474.10 183.70a1.6 1.6 0 1 0 3.2 0a1.6 1.6 0 1 0 -3.2 0M474.10 187.10a1.6 1.6 0 1 0 3.2 0a1.6 1.6 0 1 0 -3.2 0M476.50 187.10a1.6 1.6 0 1 0 3.2 0a1.6 1.6 0 1 0 -3.2 0M474.10 191.90a1.6 1.6 0 1 0 3.2 0a1.6 1.6 0 1 0 -3.2 0M525.40 156.30a1.6 1.6 0 1 0 3.2 0a1.6 1.6 0 1 0 -3.2 0M528.00 156.30a1.6 1.6 0 1 0 3.2 0a1.6 1.6 0 1 0 -3.2 0M525.70 158.50a1.6 1.6 0 1 0 3.2 0a1.6 1.6 0 1 0 -3.2 0M528.20 158.50a1.6 1.6 0 1 0 3.2 0a1.6 1.6 0 1 0 -3.2 0M525.90 160.70a1.6 1.6 0 1 0 3.2 0a1.6 1.6 0 1 0 -3.2 0M525.40 162.80a1.6 1.6 0 1 0 3.2 0a1.6 1.6 0 1 0 -3.2 0M525.20 168.90a1.6 1.6 0 1 0 3.2 0a1.6 1.6 0 1 0 -3.2 0M528.00 168.90a1.6 1.6 0 1 0 3.2 0a1.6 1.6 0 1 0 -3.2 0M525.80 178.40a1.6 1.6 0 1 0 3.2 0a1.6 1.6 0 1 0 -3.2 0M74.90 355.40a1.6 1.6 0 1 0 3.2 0a1.6 1.6 0 1 0 -3.2 0M74.90 375.00a1.6 1.6 0 1 0 3.2 0a1.6 1.6 0 1 0 -3.2 0M74.50 377.50a1.6 1.6 0 1 0 3.2 0a1.6 1.6 0 1 0 -3.2 0M76.60 378.30a1.6 1.6 0 1 0 3.2 0a1.6 1.6 0 1 0 -3.2 0M75.40 379.80a1.6 1.6 0 1 0 3.2 0a1.6 1.6 0 1 0 -3.2 0M79.20 382.00a1.6 1.6 0 1 0 3.2 0a1.6 1.6 0 1 0 -3.2 0M72.30 383.20a1.6 1.6 0 1 0 3.2 0a1.6 1.6 0 1 0 -3.2 0M74.90 384.50a1.6 1.6 0 1 0 3.2 0a1.6 1.6 0 1 0 -3.2 0M76.60 391.30a1.6 1.6 0 1 0 3.2 0a1.6 1.6 0 1 0 -3.2 0M74.30 392.60a1.6 1.6 0 1 0 3.2 0a1.6 1.6 0 1 0 -3.2 0M74.10 396.00a1.6 1.6 0 1 0 3.2 0a1.6 1.6 0 1 0 -3.2 0M76.90 396.00a1.6 1.6 0 1 0 3.2 0a1.6 1.6 0 1 0 -3.2 0M72.90 398.20a1.6 1.6 0 1 0 3.2 0a1.6 1.6 0 1 0 -3.2 0M75.60 398.20a1.6 1.6 0 1 0 3.2 0a1.6 1.6 0 1 0 -3.2 0M74.60 400.40a1.6 1.6 0 1 0 3.2 0a1.6 1.6 0 1 0 -3.2 0M77.20 400.40a1.6 1.6 0 1 0 3.2 0a1.6 1.6 0 1 0 -3.2 0M72.70 403.00a1.6 1.6 0 1 0 3.2 0a1.6 1.6 0 1 0 -3.2 0M75.40 403.00a1.6 1.6 0 1 0 3.2 0a1.6 1.6 0 1 0 -3.2 0M77.40 403.00a1.6 1.6 0 1 0 3.2 0a1.6 1.6 0 1 0 -3.2 0M74.50 404.20a1.6 1.6 0 1 0 3.2 0a1.6 1.6 0 1 0 -3.2 0M74.90 409.90a1.6 1.6 0 1 0 3.2 0a1.6 1.6 0 1 0 -3.2 0M73.40 412.00a1.6 1.6 0 1 0 3.2 0a1.6 1.6 0 1 0 -3.2 0M76.40 412.00a1.6 1.6 0 1 0 3.2 0a1.6 1.6 0 1 0 -3.2 0M72.90 414.20a1.6 1.6 0 1 0 3.2 0a1.6 1.6 0 1 0 -3.2 0M75.40 414.20a1.6 1.6 0 1 0 3.2 0a1.6 1.6 0 1 0 -3.2 0M77.40 414.20a1.6 1.6 0 1 0 3.2 0a1.6 1.6 0 1 0 -3.2 0M72.70 415.90a1.6 1.6 0 1 0 3.2 0a1.6 1.6 0 1 0 -3.2 0M75.40 415.90a1.6 1.6 0 1 0 3.2 0a1.6 1.6 0 1 0 -3.2 0M73.90 418.10a1.6 1.6 0 1 0 3.2 0a1.6 1.6 0 1 0 -3.2 0M76.70 418.10a1.6 1.6 0 1 0 3.2 0a1.6 1.6 0 1 0 -3.2 0M72.70 420.70a1.6 1.6 0 1 0 3.2 0a1.6 1.6 0 1 0 -3.2 0M75.20 420.70a1.6 1.6 0 1 0 3.2 0a1.6 1.6 0 1 0 -3.2 0M74.40 422.80a1.6 1.6 0 1 0 3.2 0a1.6 1.6 0 1 0 -3.2 0M77.10 422.80a1.6 1.6 0 1 0 3.2 0a1.6 1.6 0 1 0 -3.2 0M72.20 425.00a1.6 1.6 0 1 0 3.2 0a1.6 1.6 0 1 0 -3.2 0M74.90 425.00a1.6 1.6 0 1 0 3.2 0a1.6 1.6 0 1 0 -3.2 0M73.60 427.10a1.6 1.6 0 1 0 3.2 0a1.6 1.6 0 1 0 -3.2 0M76.30 427.10a1.6 1.6 0 1 0 3.2 0a1.6 1.6 0 1 0 -3.2 0M74.90 429.30a1.6 1.6 0 1 0 3.2 0a1.6 1.6 0 1 0 -3.2 0M77.40 429.30a1.6 1.6 0 1 0 3.2 0a1.6 1.6 0 1 0 -3.2 0M77.00 431.00a1.6 1.6 0 1 0 3.2 0a1.6 1.6 0 1 0 -3.2 0M69.20 433.60a1.6 1.6 0 1 0 3.2 0a1.6 1.6 0 1 0 -3.2 0M72.08 433.60a1.6 1.6 0 1 0 3.2 0a1.6 1.6 0 1 0 -3.2 0M74.95 433.60a1.6 1.6 0 1 0 3.2 0a1.6 1.6 0 1 0 -3.2 0M77.83 433.60a1.6 1.6 0 1 0 3.2 0a1.6 1.6 0 1 0 -3.2 0M80.70 433.60a1.6 1.6 0 1 0 3.2 0a1.6 1.6 0 1 0 -3.2 0M72.90 435.30a1.6 1.6 0 1 0 3.2 0a1.6 1.6 0 1 0 -3.2 0M75.60 435.30a1.6 1.6 0 1 0 3.2 0a1.6 1.6 0 1 0 -3.2 0M78.40 435.30a1.6 1.6 0 1 0 3.2 0a1.6 1.6 0 1 0 -3.2 0M74.90 437.10a1.6 1.6 0 1 0 3.2 0a1.6 1.6 0 1 0 -3.2 0M126.40 366.20a1.6 1.6 0 1 0 3.2 0a1.6 1.6 0 1 0 -3.2 0M128.70 378.40a1.6 1.6 0 1 0 3.2 0a1.6 1.6 0 1 0 -3.2 0M126.10 379.50a1.6 1.6 0 1 0 3.2 0a1.6 1.6 0 1 0 -3.2 0M126.60 385.40a1.6 1.6 0 1 0 3.2 0a1.6 1.6 0 1 0 -3.2 0M126.60 388.00a1.6 1.6 0 1 0 3.2 0a1.6 1.6 0 1 0 -3.2 0M126.60 390.60a1.6 1.6 0 1 0 3.2 0a1.6 1.6 0 1 0 -3.2 0M126.60 393.20a1.6 1.6 0 1 0 3.2 0a1.6 1.6 0 1 0 -3.2 0M124.20 398.90a1.6 1.6 0 1 0 3.2 0a1.6 1.6 0 1 0 -3.2 0M126.60 398.90a1.6 1.6 0 1 0 3.2 0a1.6 1.6 0 1 0 -3.2 0M128.90 398.90a1.6 1.6 0 1 0 3.2 0a1.6 1.6 0 1 0 -3.2 0M126.40 402.30a1.6 1.6 0 1 0 3.2 0a1.6 1.6 0 1 0 -3.2 0M123.80 404.90a1.6 1.6 0 1 0 3.2 0a1.6 1.6 0 1 0 -3.2 0M126.40 404.90a1.6 1.6 0 1 0 3.2 0a1.6 1.6 0 1 0 -3.2 0M129.90 404.90a1.6 1.6 0 1 0 3.2 0a1.6 1.6 0 1 0 -3.2 0M125.90 407.50a1.6 1.6 0 1 0 3.2 0a1.6 1.6 0 1 0 -3.2 0M128.40 407.50a1.6 1.6 0 1 0 3.2 0a1.6 1.6 0 1 0 -3.2 0M125.90 409.70a1.6 1.6 0 1 0 3.2 0a1.6 1.6 0 1 0 -3.2 0M128.40 409.70a1.6 1.6 0 1 0 3.2 0a1.6 1.6 0 1 0 -3.2 0M124.90 411.40a1.6 1.6 0 1 0 3.2 0a1.6 1.6 0 1 0 -3.2 0M127.40 411.40a1.6 1.6 0 1 0 3.2 0a1.6 1.6 0 1 0 -3.2 0M123.90 413.60a1.6 1.6 0 1 0 3.2 0a1.6 1.6 0 1 0 -3.2 0M126.60 413.60a1.6 1.6 0 1 0 3.2 0a1.6 1.6 0 1 0 -3.2 0M129.20 413.60a1.6 1.6 0 1 0 3.2 0a1.6 1.6 0 1 0 -3.2 0M123.40 415.70a1.6 1.6 0 1 0 3.2 0a1.6 1.6 0 1 0 -3.2 0M126.20 415.70a1.6 1.6 0 1 0 3.2 0a1.6 1.6 0 1 0 -3.2 0M128.90 415.70a1.6 1.6 0 1 0 3.2 0a1.6 1.6 0 1 0 -3.2 0M124.90 417.50a1.6 1.6 0 1 0 3.2 0a1.6 1.6 0 1 0 -3.2 0M127.70 417.50a1.6 1.6 0 1 0 3.2 0a1.6 1.6 0 1 0 -3.2 0M124.90 419.60a1.6 1.6 0 1 0 3.2 0a1.6 1.6 0 1 0 -3.2 0M127.70 419.60a1.6 1.6 0 1 0 3.2 0a1.6 1.6 0 1 0 -3.2 0M123.90 422.20a1.6 1.6 0 1 0 3.2 0a1.6 1.6 0 1 0 -3.2 0M126.60 422.20a1.6 1.6 0 1 0 3.2 0a1.6 1.6 0 1 0 -3.2 0M123.70 423.90a1.6 1.6 0 1 0 3.2 0a1.6 1.6 0 1 0 -3.2 0M126.40 423.90a1.6 1.6 0 1 0 3.2 0a1.6 1.6 0 1 0 -3.2 0M129.20 423.90a1.6 1.6 0 1 0 3.2 0a1.6 1.6 0 1 0 -3.2 0M121.00 426.10a1.6 1.6 0 1 0 3.2 0a1.6 1.6 0 1 0 -3.2 0M123.97 426.10a1.6 1.6 0 1 0 3.2 0a1.6 1.6 0 1 0 -3.2 0M126.93 426.10a1.6 1.6 0 1 0 3.2 0a1.6 1.6 0 1 0 -3.2 0M129.90 426.10a1.6 1.6 0 1 0 3.2 0a1.6 1.6 0 1 0 -3.2 0M123.70 427.80a1.6 1.6 0 1 0 3.2 0a1.6 1.6 0 1 0 -3.2 0M126.40 427.80a1.6 1.6 0 1 0 3.2 0a1.6 1.6 0 1 0 -3.2 0M129.20 427.80a1.6 1.6 0 1 0 3.2 0a1.6 1.6 0 1 0 -3.2 0M125.40 429.50a1.6 1.6 0 1 0 3.2 0a1.6 1.6 0 1 0 -3.2 0M128.10 429.50a1.6 1.6 0 1 0 3.2 0a1.6 1.6 0 1 0 -3.2 0M122.30 431.70a1.6 1.6 0 1 0 3.2 0a1.6 1.6 0 1 0 -3.2 0M124.83 431.70a1.6 1.6 0 1 0 3.2 0a1.6 1.6 0 1 0 -3.2 0M127.37 431.70a1.6 1.6 0 1 0 3.2 0a1.6 1.6 0 1 0 -3.2 0M129.90 431.70a1.6 1.6 0 1 0 3.2 0a1.6 1.6 0 1 0 -3.2 0M123.70 433.00a1.6 1.6 0 1 0 3.2 0a1.6 1.6 0 1 0 -3.2 0M126.40 433.00a1.6 1.6 0 1 0 3.2 0a1.6 1.6 0 1 0 -3.2 0M129.20 433.00a1.6 1.6 0 1 0 3.2 0a1.6 1.6 0 1 0 -3.2 0M120.20 435.20a1.6 1.6 0 1 0 3.2 0a1.6 1.6 0 1 0 -3.2 0M123.28 435.20a1.6 1.6 0 1 0 3.2 0a1.6 1.6 0 1 0 -3.2 0M126.35 435.20a1.6 1.6 0 1 0 3.2 0a1.6 1.6 0 1 0 -3.2 0M129.43 435.20a1.6 1.6 0 1 0 3.2 0a1.6 1.6 0 1 0 -3.2 0M132.50 435.20a1.6 1.6 0 1 0 3.2 0a1.6 1.6 0 1 0 -3.2 0M177.90 370.20a1.6 1.6 0 1 0 3.2 0a1.6 1.6 0 1 0 -3.2 0M179.60 378.30a1.6 1.6 0 1 0 3.2 0a1.6 1.6 0 1 0 -3.2 0M177.90 380.30a1.6 1.6 0 1 0 3.2 0a1.6 1.6 0 1 0 -3.2 0M177.90 394.00a1.6 1.6 0 1 0 3.2 0a1.6 1.6 0 1 0 -3.2 0M177.90 396.60a1.6 1.6 0 1 0 3.2 0a1.6 1.6 0 1 0 -3.2 0M178.10 399.00a1.6 1.6 0 1 0 3.2 0a1.6 1.6 0 1 0 -3.2 0M180.70 399.00a1.6 1.6 0 1 0 3.2 0a1.6 1.6 0 1 0 -3.2 0M176.20 402.30a1.6 1.6 0 1 0 3.2 0a1.6 1.6 0 1 0 -3.2 0M180.20 403.30a1.6 1.6 0 1 0 3.2 0a1.6 1.6 0 1 0 -3.2 0M177.60 404.40a1.6 1.6 0 1 0 3.2 0a1.6 1.6 0 1 0 -3.2 0M177.90 407.50a1.6 1.6 0 1 0 3.2 0a1.6 1.6 0 1 0 -3.2 0M179.60 415.50a1.6 1.6 0 1 0 3.2 0a1.6 1.6 0 1 0 -3.2 0M177.60 417.50a1.6 1.6 0 1 0 3.2 0a1.6 1.6 0 1 0 -3.2 0M178.10 420.20a1.6 1.6 0 1 0 3.2 0a1.6 1.6 0 1 0 -3.2 0M180.70 420.20a1.6 1.6 0 1 0 3.2 0a1.6 1.6 0 1 0 -3.2 0M175.40 423.00a1.6 1.6 0 1 0 3.2 0a1.6 1.6 0 1 0 -3.2 0M178.10 423.00a1.6 1.6 0 1 0 3.2 0a1.6 1.6 0 1 0 -3.2 0M180.90 423.00a1.6 1.6 0 1 0 3.2 0a1.6 1.6 0 1 0 -3.2 0M175.40 425.50a1.6 1.6 0 1 0 3.2 0a1.6 1.6 0 1 0 -3.2 0M178.10 425.50a1.6 1.6 0 1 0 3.2 0a1.6 1.6 0 1 0 -3.2 0M180.90 425.50a1.6 1.6 0 1 0 3.2 0a1.6 1.6 0 1 0 -3.2 0M176.90 428.10a1.6 1.6 0 1 0 3.2 0a1.6 1.6 0 1 0 -3.2 0M179.60 428.10a1.6 1.6 0 1 0 3.2 0a1.6 1.6 0 1 0 -3.2 0M178.00 430.20a1.6 1.6 0 1 0 3.2 0a1.6 1.6 0 1 0 -3.2 0M173.50 432.30a1.6 1.6 0 1 0 3.2 0a1.6 1.6 0 1 0 -3.2 0M176.60 432.30a1.6 1.6 0 1 0 3.2 0a1.6 1.6 0 1 0 -3.2 0M179.70 432.30a1.6 1.6 0 1 0 3.2 0a1.6 1.6 0 1 0 -3.2 0M182.80 432.30a1.6 1.6 0 1 0 3.2 0a1.6 1.6 0 1 0 -3.2 0M173.50 434.40a1.6 1.6 0 1 0 3.2 0a1.6 1.6 0 1 0 -3.2 0M176.60 434.40a1.6 1.6 0 1 0 3.2 0a1.6 1.6 0 1 0 -3.2 0M179.70 434.40a1.6 1.6 0 1 0 3.2 0a1.6 1.6 0 1 0 -3.2 0M182.80 434.40a1.6 1.6 0 1 0 3.2 0a1.6 1.6 0 1 0 -3.2 0M178.00 437.30a1.6 1.6 0 1 0 3.2 0a1.6 1.6 0 1 0 -3.2 0M229.80 364.40a1.6 1.6 0 1 0 3.2 0a1.6 1.6 0 1 0 -3.2 0M229.80 372.70a1.6 1.6 0 1 0 3.2 0a1.6 1.6 0 1 0 -3.2 0M228.70 392.50a1.6 1.6 0 1 0 3.2 0a1.6 1.6 0 1 0 -3.2 0M231.70 392.50a1.6 1.6 0 1 0 3.2 0a1.6 1.6 0 1 0 -3.2 0M229.60 415.20a1.6 1.6 0 1 0 3.2 0a1.6 1.6 0 1 0 -3.2 0M229.60 417.60a1.6 1.6 0 1 0 3.2 0a1.6 1.6 0 1 0 -3.2 0M227.90 419.70a1.6 1.6 0 1 0 3.2 0a1.6 1.6 0 1 0 -3.2 0M230.40 419.70a1.6 1.6 0 1 0 3.2 0a1.6 1.6 0 1 0 -3.2 0M232.40 419.70a1.6 1.6 0 1 0 3.2 0a1.6 1.6 0 1 0 -3.2 0M227.90 422.20a1.6 1.6 0 1 0 3.2 0a1.6 1.6 0 1 0 -3.2 0M230.90 422.20a1.6 1.6 0 1 0 3.2 0a1.6 1.6 0 1 0 -3.2 0M230.60 429.20a1.6 1.6 0 1 0 3.2 0a1.6 1.6 0 1 0 -3.2 0M227.90 431.80a1.6 1.6 0 1 0 3.2 0a1.6 1.6 0 1 0 -3.2 0M230.90 431.80a1.6 1.6 0 1 0 3.2 0a1.6 1.6 0 1 0 -3.2 0M226.90 433.80a1.6 1.6 0 1 0 3.2 0a1.6 1.6 0 1 0 -3.2 0M229.60 433.80a1.6 1.6 0 1 0 3.2 0a1.6 1.6 0 1 0 -3.2 0M232.40 433.80a1.6 1.6 0 1 0 3.2 0a1.6 1.6 0 1 0 -3.2 0M224.90 435.90a1.6 1.6 0 1 0 3.2 0a1.6 1.6 0 1 0 -3.2 0M227.90 435.90a1.6 1.6 0 1 0 3.2 0a1.6 1.6 0 1 0 -3.2 0M230.90 435.90a1.6 1.6 0 1 0 3.2 0a1.6 1.6 0 1 0 -3.2 0M233.40 435.90a1.6 1.6 0 1 0 3.2 0a1.6 1.6 0 1 0 -3.2 0M226.90 437.50a1.6 1.6 0 1 0 3.2 0a1.6 1.6 0 1 0 -3.2 0M229.60 437.50a1.6 1.6 0 1 0 3.2 0a1.6 1.6 0 1 0 -3.2 0M232.40 437.50a1.6 1.6 0 1 0 3.2 0a1.6 1.6 0 1 0 -3.2 0M370.80 377.50a1.6 1.6 0 1 0 3.2 0a1.6 1.6 0 1 0 -3.2 0M370.80 400.40a1.6 1.6 0 1 0 3.2 0a1.6 1.6 0 1 0 -3.2 0M370.80 420.30a1.6 1.6 0 1 0 3.2 0a1.6 1.6 0 1 0 -3.2 0M370.80 425.10a1.6 1.6 0 1 0 3.2 0a1.6 1.6 0 1 0 -3.2 0M370.80 436.00a1.6 1.6 0 1 0 3.2 0a1.6 1.6 0 1 0 -3.2 0M370.80 438.60a1.6 1.6 0 1 0 3.2 0a1.6 1.6 0 1 0 -3.2 0M369.50 444.20a1.6 1.6 0 1 0 3.2 0a1.6 1.6 0 1 0 -3.2 0M372.00 444.20a1.6 1.6 0 1 0 3.2 0a1.6 1.6 0 1 0 -3.2 0M370.60 446.40a1.6 1.6 0 1 0 3.2 0a1.6 1.6 0 1 0 -3.2 0M373.00 446.40a1.6 1.6 0 1 0 3.2 0a1.6 1.6 0 1 0 -3.2 0M369.90 456.80a1.6 1.6 0 1 0 3.2 0a1.6 1.6 0 1 0 -3.2 0M368.70 459.40a1.6 1.6 0 1 0 3.2 0a1.6 1.6 0 1 0 -3.2 0M371.00 459.40a1.6 1.6 0 1 0 3.2 0a1.6 1.6 0 1 0 -3.2 0M373.20 459.40a1.6 1.6 0 1 0 3.2 0a1.6 1.6 0 1 0 -3.2 0M372.10 460.80a1.6 1.6 0 1 0 3.2 0a1.6 1.6 0 1 0 -3.2 0M370.80 462.80a1.6 1.6 0 1 0 3.2 0a1.6 1.6 0 1 0 -3.2 0M422.60 373.30a1.6 1.6 0 1 0 3.2 0a1.6 1.6 0 1 0 -3.2 0M422.60 416.85a1.6 1.6 0 1 0 3.2 0a1.6 1.6 0 1 0 -3.2 0M422.60 431.60a1.6 1.6 0 1 0 3.2 0a1.6 1.6 0 1 0 -3.2 0M422.60 442.50a1.6 1.6 0 1 0 3.2 0a1.6 1.6 0 1 0 -3.2 0M422.60 448.50a1.6 1.6 0 1 0 3.2 0a1.6 1.6 0 1 0 -3.2 0M422.60 454.20a1.6 1.6 0 1 0 3.2 0a1.6 1.6 0 1 0 -3.2 0M424.70 459.40a1.6 1.6 0 1 0 3.2 0a1.6 1.6 0 1 0 -3.2 0M422.30 460.60a1.6 1.6 0 1 0 3.2 0a1.6 1.6 0 1 0 -3.2 0M422.60 463.20a1.6 1.6 0 1 0 3.2 0a1.6 1.6 0 1 0 -3.2 0M474.10 410.10a1.6 1.6 0 1 0 3.2 0a1.6 1.6 0 1 0 -3.2 0M474.10 436.10a1.6 1.6 0 1 0 3.2 0a1.6 1.6 0 1 0 -3.2 0M474.10 440.70a1.6 1.6 0 1 0 3.2 0a1.6 1.6 0 1 0 -3.2 0M474.10 447.65a1.6 1.6 0 1 0 3.2 0a1.6 1.6 0 1 0 -3.2 0M475.80 453.35a1.6 1.6 0 1 0 3.2 0a1.6 1.6 0 1 0 -3.2 0M473.90 454.85a1.6 1.6 0 1 0 3.2 0a1.6 1.6 0 1 0 -3.2 0M473.40 458.00a1.6 1.6 0 1 0 3.2 0a1.6 1.6 0 1 0 -3.2 0M476.20 458.00a1.6 1.6 0 1 0 3.2 0a1.6 1.6 0 1 0 -3.2 0M471.90 460.50a1.6 1.6 0 1 0 3.2 0a1.6 1.6 0 1 0 -3.2 0M474.40 460.50a1.6 1.6 0 1 0 3.2 0a1.6 1.6 0 1 0 -3.2 0M476.90 460.50a1.6 1.6 0 1 0 3.2 0a1.6 1.6 0 1 0 -3.2 0M471.00 462.60a1.6 1.6 0 1 0 3.2 0a1.6 1.6 0 1 0 -3.2 0M473.90 462.60a1.6 1.6 0 1 0 3.2 0a1.6 1.6 0 1 0 -3.2 0M476.80 462.60a1.6 1.6 0 1 0 3.2 0a1.6 1.6 0 1 0 -3.2 0"/>
<path fill="#107010" d="M71.10 144.40a1.6 1.6 0 1 0 3.2 0a1.6 1.6 0 1 0 -3.2 0M73.67 144.40a1.6 1.6 0 1 0 3.2 0a1.6 1.6 0 1 0 -3.2 0M76.23 144.40a1.6 1.6 0 1 0 3.2 0a1.6 1.6 0 1 0 -3.2 0M78.80 144.40a1.6 1.6 0 1 0 3.2 0a1.6 1.6 0 1 0 -3.2 0M73.90 150.00a1.6 1.6 0 1 0 3.2 0a1.6 1.6 0 1 0 -3.2 0M76.40 150.00a1.6 1.6 0 1 0 3.2 0a1.6 1.6 0 1 0 -3.2 0M74.10 152.30a1.6 1.6 0 1 0 3.2 0a1.6 1.6 0 1 0 -3.2 0M76.40 152.30a1.6 1.6 0 1 0 3.2 0a1.6 1.6 0 1 0 -3.2 0M72.70 154.20a1.6 1.6 0 1 0 3.2 0a1.6 1.6 0 1 0 -3.2 0M75.40 154.20a1.6 1.6 0 1 0 3.2 0a1.6 1.6 0 1 0 -3.2 0M77.40 154.20a1.6 1.6 0 1 0 3.2 0a1.6 1.6 0 1 0 -3.2 0M73.60 156.60a1.6 1.6 0 1 0 3.2 0a1.6 1.6 0 1 0 -3.2 0M77.30 156.60a1.6 1.6 0 1 0 3.2 0a1.6 1.6 0 1 0 -3.2 0M72.80 158.50a1.6 1.6 0 1 0 3.2 0a1.6 1.6 0 1 0 -3.2 0M75.20 158.50a1.6 1.6 0 1 0 3.2 0a1.6 1.6 0 1 0 -3.2 0M77.60 158.50a1.6 1.6 0 1 0 3.2 0a1.6 1.6 0 1 0 -3.2 0M72.90 160.40a1.6 1.6 0 1 0 3.2 0a1.6 1.6 0 1 0 -3.2 0M75.60 160.40a1.6 1.6 0 1 0 3.2 0a1.6 1.6 0 1 0 -3.2 0M77.60 160.40a1.6 1.6 0 1 0 3.2 0a1.6 1.6 0 1 0 -3.2 0M71.10 163.70a1.6 1.6 0 1 0 3.2 0a1.6 1.6 0 1 0 -3.2 0M74.13 163.70a1.6 1.6 0 1 0 3.2 0a1.6 1.6 0 1 0 -3.2 0M77.17 163.70a1.6 1.6 0 1 0 3.2 0a1.6 1.6 0 1 0 -3.2 0M80.20 163.70a1.6 1.6 0 1 0 3.2 0a1.6 1.6 0 1 0 -3.2 0M73.40 165.20a1.6 1.6 0 1 0 3.2 0a1.6 1.6 0 1 0 -3.2 0M76.90 165.20a1.6 1.6 0 1 0 3.2 0a1.6 1.6 0 1 0 -3.2 0M71.60 168.50a1.6 1.6 0 1 0 3.2 0a1.6 1.6 0 1 0 -3.2 0M74.95 168.50a1.6 1.6 0 1 0 3.2 0a1.6 1.6 0 1 0 -3.2 0M78.30 168.50a1.6 1.6 0 1 0 3.2 0a1.6 1.6 0 1 0 -3.2 0M73.90 169.90a1.6 1.6 0 1 0 3.2 0a1.6 1.6 0 1 0 -3.2 0M76.70 169.90a1.6 1.6 0 1 0 3.2 0a1.6 1.6 0 1 0 -3.2 0M72.70 173.70a1.6 1.6 0 1 0 3.2 0a1.6 1.6 0 1 0 -3.2 0M75.40 173.70a1.6 1.6 0 1 0 3.2 0a1.6 1.6 0 1 0 -3.2 0M77.70 173.70a1.6 1.6 0 1 0 3.2 0a1.6 1.6 0 1 0 -3.2 0M72.70 175.60a1.6 1.6 0 1 0 3.2 0a1.6 1.6 0 1 0 -3.2 0M75.40 175.60a1.6 1.6 0 1 0 3.2 0a1.6 1.6 0 1 0 -3.2 0M77.70 175.60a1.6 1.6 0 1 0 3.2 0a1.6 1.6 0 1 0 -3.2 0M74.40 177.50a1.6 1.6 0 1 0 3.2 0a1.6 1.6 0 1 0 -3.2 0M76.90 177.50a1.6 1.6 0 1 0 3.2 0a1.6 1.6 0 1 0 -3.2 0M73.90 182.30a1.6 1.6 0 1 0 3.2 0a1.6 1.6 0 1 0 -3.2 0M76.20 182.30a1.6 1.6 0 1 0 3.2 0a1.6 1.6 0 1 0 -3.2 0M75.40 184.20a1.6 1.6 0 1 0 3.2 0a1.6 1.6 0 1 0 -3.2 0M77.60 184.20a1.6 1.6 0 1 0 3.2 0a1.6 1.6 0 1 0 -3.2 0M74.40 186.50a1.6 1.6 0 1 0 3.2 0a1.6 1.6 0 1 0 -3.2 0M76.90 186.50a1.6 1.6 0 1 0 3.2 0a1.6 1.6 0 1 0 -3.2 0M74.40 188.90a1.6 1.6 0 1 0 3.2 0a1.6 1.6 0 1 0 -3.2 0M76.90 188.90a1.6 1.6 0 1 0 3.2 0a1.6 1.6 0 1 0 -3.2 0M74.40 191.80a1.6 1.6 0 1 0 3.2 0a1.6 1.6 0 1 0 -3.2 0M76.90 191.80a1.6 1.6 0 1 0 3.2 0a1.6 1.6 0 1 0 -3.2 0M74.70 193.70a1.6 1.6 0 1 0 3.2 0a1.6 1.6 0 1 0 -3.2 0M125.40 144.90a1.6 1.6 0 1 0 3.2 0a1.6 1.6 0 1 0 -3.2 0M128.20 144.90a1.6 1.6 0 1 0 3.2 0a1.6 1.6 0 1 0 -3.2 0M123.50 146.60a1.6 1.6 0 1 0 3.2 0a1.6 1.6 0 1 0 -3.2 0M126.40 146.60a1.6 1.6 0 1 0 3.2 0a1.6 1.6 0 1 0 -3.2 0M129.30 146.60a1.6 1.6 0 1 0 3.2 0a1.6 1.6 0 1 0 -3.2 0M123.20 148.60a1.6 1.6 0 1 0 3.2 0a1.6 1.6 0 1 0 -3.2 0M126.55 148.60a1.6 1.6 0 1 0 3.2 0a1.6 1.6 0 1 0 -3.2 0M129.90 148.60a1.6 1.6 0 1 0 3.2 0a1.6 1.6 0 1 0 -3.2 0M123.50 150.70a1.6 1.6 0 1 0 3.2 0a1.6 1.6 0 1 0 -3.2 0M126.65 150.70a1.6 1.6 0 1 0 3.2 0a1.6 1.6 0 1 0 -3.2 0M129.80 150.70a1.6 1.6 0 1 0 3.2 0a1.6 1.6 0 1 0 -3.2 0M124.00 152.50a1.6 1.6 0 1 0 3.2 0a1.6 1.6 0 1 0 -3.2 0M126.65 152.50a1.6 1.6 0 1 0 3.2 0a1.6 1.6 0 1 0 -3.2 0M129.30 152.50a1.6 1.6 0 1 0 3.2 0a1.6 1.6 0 1 0 -3.2 0M118.50 154.30a1.6 1.6 0 1 0 3.2 0a1.6 1.6 0 1 0 -3.2 0M121.48 154.30a1.6 1.6 0 1 0 3.2 0a1.6 1.6 0 1 0 -3.2 0M124.47 154.30a1.6 1.6 0 1 0 3.2 0a1.6 1.6 0 1 0 -3.2 0M127.45 154.30a1.6 1.6 0 1 0 3.2 0a1.6 1.6 0 1 0 -3.2 0M130.43 154.30a1.6 1.6 0 1 0 3.2 0a1.6 1.6 0 1 0 -3.2 0M133.42 154.30a1.6 1.6 0 1 0 3.2 0a1.6 1.6 0 1 0 -3.2 0M136.40 154.30a1.6 1.6 0 1 0 3.2 0a1.6 1.6 0 1 0 -3.2 0M120.20 156.00a1.6 1.6 0 1 0 3.2 0a1.6 1.6 0 1 0 -3.2 0M123.28 156.00a1.6 1.6 0 1 0 3.2 0a1.6 1.6 0 1 0 -3.2 0M126.35 156.00a1.6 1.6 0 1 0 3.2 0a1.6 1.6 0 1 0 -3.2 0M129.43 156.00a1.6 1.6 0 1 0 3.2 0a1.6 1.6 0 1 0 -3.2 0M132.50 156.00a1.6 1.6 0 1 0 3.2 0a1.6 1.6 0 1 0 -3.2 0M123.20 158.10a1.6 1.6 0 1 0 3.2 0a1.6 1.6 0 1 0 -3.2 0M126.80 158.10a1.6 1.6 0 1 0 3.2 0a1.6 1.6 0 1 0 -3.2 0M130.40 158.10a1.6 1.6 0 1 0 3.2 0a1.6 1.6 0 1 0 -3.2 0M125.40 160.30a1.6 1.6 0 1 0 3.2 0a1.6 1.6 0 1 0 -3.2 0M128.10 160.30a1.6 1.6 0 1 0 3.2 0a1.6 1.6 0 1 0 -3.2 0M127.00 162.50a1.6 1.6 0 1 0 3.2 0a1.6 1.6 0 1 0 -3.2 0M120.20 164.80a1.6 1.6 0 1 0 3.2 0a1.6 1.6 0 1 0 -3.2 0M123.18 164.80a1.6 1.6 0 1 0 3.2 0a1.6 1.6 0 1 0 -3.2 0M126.16 164.80a1.6 1.6 0 1 0 3.2 0a1.6 1.6 0 1 0 -3.2 0M129.14 164.80a1.6 1.6 0 1 0 3.2 0a1.6 1.6 0 1 0 -3.2 0M132.12 164.80a1.6 1.6 0 1 0 3.2 0a1.6 1.6 0 1 0 -3.2 0M135.10 164.80a1.6 1.6 0 1 0 3.2 0a1.6 1.6 0 1 0 -3.2 0M123.60 166.50a1.6 1.6 0 1 0 3.2 0a1.6 1.6 0 1 0 -3.2 0M126.43 166.50a1.6 1.6 0 1 0 3.2 0a1.6 1.6 0 1 0 -3.2 0M129.27 166.50a1.6 1.6 0 1 0 3.2 0a1.6 1.6 0 1 0 -3.2 0M132.10 166.50a1.6 1.6 0 1 0 3.2 0a1.6 1.6 0 1 0 -3.2 0M124.90 168.50a1.6 1.6 0 1 0 3.2 0a1.6 1.6 0 1 0 -3.2 0M127.65 168.50a1.6 1.6 0 1 0 3.2 0a1.6 1.6 0 1 0 -3.2 0M130.40 168.50a1.6 1.6 0 1 0 3.2 0a1.6 1.6 0 1 0 -3.2 0M125.90 170.90a1.6 1.6 0 1 0 3.2 0a1.6 1.6 0 1 0 -3.2 0M128.60 170.90a1.6 1.6 0 1 0 3.2 0a1.6 1.6 0 1 0 -3.2 0M126.70 175.80a1.6 1.6 0 1 0 3.2 0a1.6 1.6 0 1 0 -3.2 0M129.00 175.80a1.6 1.6 0 1 0 3.2 0a1.6 1.6 0 1 0 -3.2 0M126.40 178.00a1.6 1.6 0 1 0 3.2 0a1.6 1.6 0 1 0 -3.2 0M126.40 180.10a1.6 1.6 0 1 0 3.2 0a1.6 1.6 0 1 0 -3.2 0M128.70 180.10a1.6 1.6 0 1 0 3.2 0a1.6 1.6 0 1 0 -3.2 0M126.40 182.30a1.6 1.6 0 1 0 3.2 0a1.6 1.6 0 1 0 -3.2 0M126.40 184.90a1.6 1.6 0 1 0 3.2 0a1.6 1.6 0 1 0 -3.2 0M124.70 190.70a1.6 1.6 0 1 0 3.2 0a1.6 1.6 0 1 0 -3.2 0M129.60 190.70a1.6 1.6 0 1 0 3.2 0a1.6 1.6 0 1 0 -3.2 0M127.20 189.70a1.6 1.6 0 1 0 3.2 0a1.6 1.6 0 1 0 -3.2 0M127.00 192.10a1.6 1.6 0 1 0 3.2 0a1.6 1.6 0 1 0 -3.2 0M126.40 200.00a1.6 1.6 0 1 0 3.2 0a1.6 1.6 0 1 0 -3.2 0M126.40 212.90a1.6 1.6 0 1 0 3.2 0a1.6 1.6 0 1 0 -3.2 0M177.40 144.40a1.6 1.6 0 1 0 3.2 0a1.6 1.6 0 1 0 -3.2 0M179.70 144.40a1.6 1.6 0 1 0 3.2 0a1.6 1.6 0 1 0 -3.2 0M176.40 146.60a1.6 1.6 0 1 0 3.2 0a1.6 1.6 0 1 0 -3.2 0M178.90 146.60a1.6 1.6 0 1 0 3.2 0a1.6 1.6 0 1 0 -3.2 0M181.40 146.60a1.6 1.6 0 1 0 3.2 0a1.6 1.6 0 1 0 -3.2 0M176.90 148.70a1.6 1.6 0 1 0 3.2 0a1.6 1.6 0 1 0 -3.2 0M179.20 148.70a1.6 1.6 0 1 0 3.2 0a1.6 1.6 0 1 0 -3.2 0M181.50 148.70a1.6 1.6 0 1 0 3.2 0a1.6 1.6 0 1 0 -3.2 0M176.50 150.90a1.6 1.6 0 1 0 3.2 0a1.6 1.6 0 1 0 -3.2 0M178.80 150.90a1.6 1.6 0 1 0 3.2 0a1.6 1.6 0 1 0 -3.2 0M181.10 150.90a1.6 1.6 0 1 0 3.2 0a1.6 1.6 0 1 0 -3.2 0M177.00 152.60a1.6 1.6 0 1 0 3.2 0a1.6 1.6 0 1 0 -3.2 0M180.80 152.60a1.6 1.6 0 1 0 3.2 0a1.6 1.6 0 1 0 -3.2 0M177.40 154.80a1.6 1.6 0 1 0 3.2 0a1.6 1.6 0 1 0 -3.2 0M179.90 154.80a1.6 1.6 0 1 0 3.2 0a1.6 1.6 0 1 0 -3.2 0M172.20 157.40a1.6 1.6 0 1 0 3.2 0a1.6 1.6 0 1 0 -3.2 0M175.07 157.40a1.6 1.6 0 1 0 3.2 0a1.6 1.6 0 1 0 -3.2 0M177.95 157.40a1.6 1.6 0 1 0 3.2 0a1.6 1.6 0 1 0 -3.2 0M180.83 157.40a1.6 1.6 0 1 0 3.2 0a1.6 1.6 0 1 0 -3.2 0M183.70 157.40a1.6 1.6 0 1 0 3.2 0a1.6 1.6 0 1 0 -3.2 0M175.20 159.10a1.6 1.6 0 1 0 3.2 0a1.6 1.6 0 1 0 -3.2 0M178.80 159.10a1.6 1.6 0 1 0 3.2 0a1.6 1.6 0 1 0 -3.2 0M182.40 159.10a1.6 1.6 0 1 0 3.2 0a1.6 1.6 0 1 0 -3.2 0M177.00 160.80a1.6 1.6 0 1 0 3.2 0a1.6 1.6 0 1 0 -3.2 0M180.80 160.80a1.6 1.6 0 1 0 3.2 0a1.6 1.6 0 1 0 -3.2 0M176.40 164.70a1.6 1.6 0 1 0 3.2 0a1.6 1.6 0 1 0 -3.2 0M178.90 164.70a1.6 1.6 0 1 0 3.2 0a1.6 1.6 0 1 0 -3.2 0M178.90 166.00a1.6 1.6 0 1 0 3.2 0a1.6 1.6 0 1 0 -3.2 0M180.90 166.00a1.6 1.6 0 1 0 3.2 0a1.6 1.6 0 1 0 -3.2 0M177.40 169.90a1.6 1.6 0 1 0 3.2 0a1.6 1.6 0 1 0 -3.2 0M179.90 169.90a1.6 1.6 0 1 0 3.2 0a1.6 1.6 0 1 0 -3.2 0M176.50 172.10a1.6 1.6 0 1 0 3.2 0a1.6 1.6 0 1 0 -3.2 0M179.15 172.10a1.6 1.6 0 1 0 3.2 0a1.6 1.6 0 1 0 -3.2 0M181.80 172.10a1.6 1.6 0 1 0 3.2 0a1.6 1.6 0 1 0 -3.2 0M176.50 174.20a1.6 1.6 0 1 0 3.2 0a1.6 1.6 0 1 0 -3.2 0M178.80 174.20a1.6 1.6 0 1 0 3.2 0a1.6 1.6 0 1 0 -3.2 0M181.10 174.20a1.6 1.6 0 1 0 3.2 0a1.6 1.6 0 1 0 -3.2 0M176.50 175.60a1.6 1.6 0 1 0 3.2 0a1.6 1.6 0 1 0 -3.2 0M180.30 175.60a1.6 1.6 0 1 0 3.2 0a1.6 1.6 0 1 0 -3.2 0M177.40 177.50a1.6 1.6 0 1 0 3.2 0a1.6 1.6 0 1 0 -3.2 0M179.90 177.50a1.6 1.6 0 1 0 3.2 0a1.6 1.6 0 1 0 -3.2 0M177.40 179.70a1.6 1.6 0 1 0 3.2 0a1.6 1.6 0 1 0 -3.2 0M179.70 179.70a1.6 1.6 0 1 0 3.2 0a1.6 1.6 0 1 0 -3.2 0M177.90 182.30a1.6 1.6 0 1 0 3.2 0a1.6 1.6 0 1 0 -3.2 0M177.90 187.00a1.6 1.6 0 1 0 3.2 0a1.6 1.6 0 1 0 -3.2 0M180.40 187.00a1.6 1.6 0 1 0 3.2 0a1.6 1.6 0 1 0 -3.2 0M179.20 188.70a1.6 1.6 0 1 0 3.2 0a1.6 1.6 0 1 0 -3.2 0M177.90 191.30a1.6 1.6 0 1 0 3.2 0a1.6 1.6 0 1 0 -3.2 0M177.90 197.60a1.6 1.6 0 1 0 3.2 0a1.6 1.6 0 1 0 -3.2 0M179.60 203.40a1.6 1.6 0 1 0 3.2 0a1.6 1.6 0 1 0 -3.2 0M177.90 205.20a1.6 1.6 0 1 0 3.2 0a1.6 1.6 0 1 0 -3.2 0M177.90 214.20a1.6 1.6 0 1 0 3.2 0a1.6 1.6 0 1 0 -3.2 0M228.90 143.80a1.6 1.6 0 1 0 3.2 0a1.6 1.6 0 1 0 -3.2 0M230.90 143.80a1.6 1.6 0 1 0 3.2 0a1.6 1.6 0 1 0 -3.2 0M229.40 146.20a1.6 1.6 0 1 0 3.2 0a1.6 1.6 0 1 0 -3.2 0M228.40 148.80a1.6 1.6 0 1 0 3.2 0a1.6 1.6 0 1 0 -3.2 0M230.65 148.80a1.6 1.6 0 1 0 3.2 0a1.6 1.6 0 1 0 -3.2 0M232.90 148.80a1.6 1.6 0 1 0 3.2 0a1.6 1.6 0 1 0 -3.2 0M228.30 150.50a1.6 1.6 0 1 0 3.2 0a1.6 1.6 0 1 0 -3.2 0M230.90 150.50a1.6 1.6 0 1 0 3.2 0a1.6 1.6 0 1 0 -3.2 0M228.00 153.60a1.6 1.6 0 1 0 3.2 0a1.6 1.6 0 1 0 -3.2 0M230.70 153.60a1.6 1.6 0 1 0 3.2 0a1.6 1.6 0 1 0 -3.2 0M233.40 153.60a1.6 1.6 0 1 0 3.2 0a1.6 1.6 0 1 0 -3.2 0M228.40 154.90a1.6 1.6 0 1 0 3.2 0a1.6 1.6 0 1 0 -3.2 0M230.90 154.90a1.6 1.6 0 1 0 3.2 0a1.6 1.6 0 1 0 -3.2 0M229.60 157.00a1.6 1.6 0 1 0 3.2 0a1.6 1.6 0 1 0 -3.2 0M228.00 161.80a1.6 1.6 0 1 0 3.2 0a1.6 1.6 0 1 0 -3.2 0M232.10 161.80a1.6 1.6 0 1 0 3.2 0a1.6 1.6 0 1 0 -3.2 0M228.00 163.90a1.6 1.6 0 1 0 3.2 0a1.6 1.6 0 1 0 -3.2 0M231.60 163.90a1.6 1.6 0 1 0 3.2 0a1.6 1.6 0 1 0 -3.2 0M225.80 166.50a1.6 1.6 0 1 0 3.2 0a1.6 1.6 0 1 0 -3.2 0M228.47 166.50a1.6 1.6 0 1 0 3.2 0a1.6 1.6 0 1 0 -3.2 0M231.13 166.50a1.6 1.6 0 1 0 3.2 0a1.6 1.6 0 1 0 -3.2 0M233.80 166.50a1.6 1.6 0 1 0 3.2 0a1.6 1.6 0 1 0 -3.2 0M227.40 167.80a1.6 1.6 0 1 0 3.2 0a1.6 1.6 0 1 0 -3.2 0M229.90 167.80a1.6 1.6 0 1 0 3.2 0a1.6 1.6 0 1 0 -3.2 0M232.40 167.80a1.6 1.6 0 1 0 3.2 0a1.6 1.6 0 1 0 -3.2 0M229.40 174.30a1.6 1.6 0 1 0 3.2 0a1.6 1.6 0 1 0 -3.2 0M224.40 178.60a1.6 1.6 0 1 0 3.2 0a1.6 1.6 0 1 0 -3.2 0M227.40 178.60a1.6 1.6 0 1 0 3.2 0a1.6 1.6 0 1 0 -3.2 0M230.60 178.60a1.6 1.6 0 1 0 3.2 0a1.6 1.6 0 1 0 -3.2 0M233.20 178.60a1.6 1.6 0 1 0 3.2 0a1.6 1.6 0 1 0 -3.2 0M228.60 180.40a1.6 1.6 0 1 0 3.2 0a1.6 1.6 0 1 0 -3.2 0M231.10 180.40a1.6 1.6 0 1 0 3.2 0a1.6 1.6 0 1 0 -3.2 0M229.60 182.50a1.6 1.6 0 1 0 3.2 0a1.6 1.6 0 1 0 -3.2 0M229.60 184.40a1.6 1.6 0 1 0 3.2 0a1.6 1.6 0 1 0 -3.2 0M229.80 187.10a1.6 1.6 0 1 0 3.2 0a1.6 1.6 0 1 0 -3.2 0M229.80 192.30a1.6 1.6 0 1 0 3.2 0a1.6 1.6 0 1 0 -3.2 0M229.80 200.00a1.6 1.6 0 1 0 3.2 0a1.6 1.6 0 1 0 -3.2 0M229.80 211.50a1.6 1.6 0 1 0 3.2 0a1.6 1.6 0 1 0 -3.2 0M375.20 94.20a1.6 1.6 0 1 0 3.2 0a1.6 1.6 0 1 0 -3.2 0M368.90 96.00a1.6 1.6 0 1 0 3.2 0a1.6 1.6 0 1 0 -3.2 0M371.40 96.00a1.6 1.6 0 1 0 3.2 0a1.6 1.6 0 1 0 -3.2 0M373.90 96.00a1.6 1.6 0 1 0 3.2 0a1.6 1.6 0 1 0 -3.2 0M368.90 99.10a1.6 1.6 0 1 0 3.2 0a1.6 1.6 0 1 0 -3.2 0M371.60 101.20a1.6 1.6 0 1 0 3.2 0a1.6 1.6 0 1 0 -3.2 0M374.10 101.20a1.6 1.6 0 1 0 3.2 0a1.6 1.6 0 1 0 -3.2 0M371.60 106.30a1.6 1.6 0 1 0 3.2 0a1.6 1.6 0 1 0 -3.2 0M374.10 106.30a1.6 1.6 0 1 0 3.2 0a1.6 1.6 0 1 0 -3.2 0M371.60 111.10a1.6 1.6 0 1 0 3.2 0a1.6 1.6 0 1 0 -3.2 0M374.10 111.10a1.6 1.6 0 1 0 3.2 0a1.6 1.6 0 1 0 -3.2 0M368.90 116.00a1.6 1.6 0 1 0 3.2 0a1.6 1.6 0 1 0 -3.2 0M371.60 117.50a1.6 1.6 0 1 0 3.2 0a1.6 1.6 0 1 0 -3.2 0M374.10 117.50a1.6 1.6 0 1 0 3.2 0a1.6 1.6 0 1 0 -3.2 0M368.90 120.90a1.6 1.6 0 1 0 3.2 0a1.6 1.6 0 1 0 -3.2 0M371.60 122.50a1.6 1.6 0 1 0 3.2 0a1.6 1.6 0 1 0 -3.2 0M374.10 122.50a1.6 1.6 0 1 0 3.2 0a1.6 1.6 0 1 0 -3.2 0M368.90 125.70a1.6 1.6 0 1 0 3.2 0a1.6 1.6 0 1 0 -3.2 0M371.60 125.70a1.6 1.6 0 1 0 3.2 0a1.6 1.6 0 1 0 -3.2 0M368.90 127.60a1.6 1.6 0 1 0 3.2 0a1.6 1.6 0 1 0 -3.2 0M371.90 129.00a1.6 1.6 0 1 0 3.2 0a1.6 1.6 0 1 0 -3.2 0M374.10 129.00a1.6 1.6 0 1 0 3.2 0a1.6 1.6 0 1 0 -3.2 0M370.40 130.90a1.6 1.6 0 1 0 3.2 0a1.6 1.6 0 1 0 -3.2 0M372.90 130.90a1.6 1.6 0 1 0 3.2 0a1.6 1.6 0 1 0 -3.2 0M368.90 132.70a1.6 1.6 0 1 0 3.2 0a1.6 1.6 0 1 0 -3.2 0M371.40 132.70a1.6 1.6 0 1 0 3.2 0a1.6 1.6 0 1 0 -3.2 0M373.90 132.70a1.6 1.6 0 1 0 3.2 0a1.6 1.6 0 1 0 -3.2 0M370.90 134.50a1.6 1.6 0 1 0 3.2 0a1.6 1.6 0 1 0 -3.2 0M373.40 134.50a1.6 1.6 0 1 0 3.2 0a1.6 1.6 0 1 0 -3.2 0M368.40 136.00a1.6 1.6 0 1 0 3.2 0a1.6 1.6 0 1 0 -3.2 0M371.00 136.00a1.6 1.6 0 1 0 3.2 0a1.6 1.6 0 1 0 -3.2 0M373.60 136.00a1.6 1.6 0 1 0 3.2 0a1.6 1.6 0 1 0 -3.2 0M375.70 136.00a1.6 1.6 0 1 0 3.2 0a1.6 1.6 0 1 0 -3.2 0M370.90 137.30a1.6 1.6 0 1 0 3.2 0a1.6 1.6 0 1 0 -3.2 0M373.40 137.30a1.6 1.6 0 1 0 3.2 0a1.6 1.6 0 1 0 -3.2 0M371.90 138.70a1.6 1.6 0 1 0 3.2 0a1.6 1.6 0 1 0 -3.2 0M368.40 140.50a1.6 1.6 0 1 0 3.2 0a1.6 1.6 0 1 0 -3.2 0M370.90 140.50a1.6 1.6 0 1 0 3.2 0a1.6 1.6 0 1 0 -3.2 0M373.40 140.50a1.6 1.6 0 1 0 3.2 0a1.6 1.6 0 1 0 -3.2 0M367.90 142.70a1.6 1.6 0 1 0 3.2 0a1.6 1.6 0 1 0 -3.2 0M370.40 142.70a1.6 1.6 0 1 0 3.2 0a1.6 1.6 0 1 0 -3.2 0M372.90 142.70a1.6 1.6 0 1 0 3.2 0a1.6 1.6 0 1 0 -3.2 0M375.40 142.70a1.6 1.6 0 1 0 3.2 0a1.6 1.6 0 1 0 -3.2 0M369.90 144.20a1.6 1.6 0 1 0 3.2 0a1.6 1.6 0 1 0 -3.2 0M372.40 144.20a1.6 1.6 0 1 0 3.2 0a1.6 1.6 0 1 0 -3.2 0M374.90 144.20a1.6 1.6 0 1 0 3.2 0a1.6 1.6 0 1 0 -3.2 0M367.40 145.70a1.6 1.6 0 1 0 3.2 0a1.6 1.6 0 1 0 -3.2 0M369.90 145.70a1.6 1.6 0 1 0 3.2 0a1.6 1.6 0 1 0 -3.2 0M372.40 145.70a1.6 1.6 0 1 0 3.2 0a1.6 1.6 0 1 0 -3.2 0M374.90 145.70a1.6 1.6 0 1 0 3.2 0a1.6 1.6 0 1 0 -3.2 0M366.90 146.90a1.6 1.6 0 1 0 3.2 0a1.6 1.6 0 1 0 -3.2 0M369.40 146.90a1.6 1.6 0 1 0 3.2 0a1.6 1.6 0 1 0 -3.2 0M371.90 146.90a1.6 1.6 0 1 0 3.2 0a1.6 1.6 0 1 0 -3.2 0M374.40 146.90a1.6 1.6 0 1 0 3.2 0a1.6 1.6 0 1 0 -3.2 0M367.40 149.60a1.6 1.6 0 1 0 3.2 0a1.6 1.6 0 1 0 -3.2 0M370.07 149.60a1.6 1.6 0 1 0 3.2 0a1.6 1.6 0 1 0 -3.2 0M372.73 149.60a1.6 1.6 0 1 0 3.2 0a1.6 1.6 0 1 0 -3.2 0M375.40 149.60a1.6 1.6 0 1 0 3.2 0a1.6 1.6 0 1 0 -3.2 0M368.00 151.10a1.6 1.6 0 1 0 3.2 0a1.6 1.6 0 1 0 -3.2 0M371.40 151.10a1.6 1.6 0 1 0 3.2 0a1.6 1.6 0 1 0 -3.2 0M374.80 151.10a1.6 1.6 0 1 0 3.2 0a1.6 1.6 0 1 0 -3.2 0M368.90 152.90a1.6 1.6 0 1 0 3.2 0a1.6 1.6 0 1 0 -3.2 0M371.40 152.90a1.6 1.6 0 1 0 3.2 0a1.6 1.6 0 1 0 -3.2 0M373.90 152.90a1.6 1.6 0 1 0 3.2 0a1.6 1.6 0 1 0 -3.2 0M422.60 68.10a1.6 1.6 0 1 0 3.2 0a1.6 1.6 0 1 0 -3.2 0M422.60 74.80a1.6 1.6 0 1 0 3.2 0a1.6 1.6 0 1 0 -3.2 0M422.60 86.40a1.6 1.6 0 1 0 3.2 0a1.6 1.6 0 1 0 -3.2 0M422.60 94.20a1.6 1.6 0 1 0 3.2 0a1.6 1.6 0 1 0 -3.2 0M420.50 96.30a1.6 1.6 0 1 0 3.2 0a1.6 1.6 0 1 0 -3.2 0M423.00 96.30a1.6 1.6 0 1 0 3.2 0a1.6 1.6 0 1 0 -3.2 0M425.40 96.30a1.6 1.6 0 1 0 3.2 0a1.6 1.6 0 1 0 -3.2 0M424.70 97.80a1.6 1.6 0 1 0 3.2 0a1.6 1.6 0 1 0 -3.2 0M422.60 102.50a1.6 1.6 0 1 0 3.2 0a1.6 1.6 0 1 0 -3.2 0M422.60 107.40a1.6 1.6 0 1 0 3.2 0a1.6 1.6 0 1 0 -3.2 0M419.90 109.70a1.6 1.6 0 1 0 3.2 0a1.6 1.6 0 1 0 -3.2 0M422.90 109.70a1.6 1.6 0 1 0 3.2 0a1.6 1.6 0 1 0 -3.2 0M425.90 109.70a1.6 1.6 0 1 0 3.2 0a1.6 1.6 0 1 0 -3.2 0M421.40 111.20a1.6 1.6 0 1 0 3.2 0a1.6 1.6 0 1 0 -3.2 0M424.40 111.20a1.6 1.6 0 1 0 3.2 0a1.6 1.6 0 1 0 -3.2 0M422.60 113.60a1.6 1.6 0 1 0 3.2 0a1.6 1.6 0 1 0 -3.2 0M421.90 116.00a1.6 1.6 0 1 0 3.2 0a1.6 1.6 0 1 0 -3.2 0M424.40 116.00a1.6 1.6 0 1 0 3.2 0a1.6 1.6 0 1 0 -3.2 0M422.10 117.80a1.6 1.6 0 1 0 3.2 0a1.6 1.6 0 1 0 -3.2 0M416.80 119.50a1.6 1.6 0 1 0 3.2 0a1.6 1.6 0 1 0 -3.2 0M419.48 119.50a1.6 1.6 0 1 0 3.2 0a1.6 1.6 0 1 0 -3.2 0M422.16 119.50a1.6 1.6 0 1 0 3.2 0a1.6 1.6 0 1 0 -3.2 0M424.84 119.50a1.6 1.6 0 1 0 3.2 0a1.6 1.6 0 1 0 -3.2 0M427.52 119.50a1.6 1.6 0 1 0 3.2 0a1.6 1.6 0 1 0 -3.2 0M430.20 119.50a1.6 1.6 0 1 0 3.2 0a1.6 1.6 0 1 0 -3.2 0M420.30 120.90a1.6 1.6 0 1 0 3.2 0a1.6 1.6 0 1 0 -3.2 0M423.55 120.90a1.6 1.6 0 1 0 3.2 0a1.6 1.6 0 1 0 -3.2 0M426.80 120.90a1.6 1.6 0 1 0 3.2 0a1.6 1.6 0 1 0 -3.2 0M418.20 124.00a1.6 1.6 0 1 0 3.2 0a1.6 1.6 0 1 0 -3.2 0M420.83 124.00a1.6 1.6 0 1 0 3.2 0a1.6 1.6 0 1 0 -3.2 0M423.47 124.00a1.6 1.6 0 1 0 3.2 0a1.6 1.6 0 1 0 -3.2 0M426.10 124.00a1.6 1.6 0 1 0 3.2 0a1.6 1.6 0 1 0 -3.2 0M421.40 126.40a1.6 1.6 0 1 0 3.2 0a1.6 1.6 0 1 0 -3.2 0M424.10 126.40a1.6 1.6 0 1 0 3.2 0a1.6 1.6 0 1 0 -3.2 0M419.90 128.50a1.6 1.6 0 1 0 3.2 0a1.6 1.6 0 1 0 -3.2 0M422.60 128.50a1.6 1.6 0 1 0 3.2 0a1.6 1.6 0 1 0 -3.2 0M425.40 128.50a1.6 1.6 0 1 0 3.2 0a1.6 1.6 0 1 0 -3.2 0M419.40 130.50a1.6 1.6 0 1 0 3.2 0a1.6 1.6 0 1 0 -3.2 0M422.40 130.50a1.6 1.6 0 1 0 3.2 0a1.6 1.6 0 1 0 -3.2 0M425.40 130.50a1.6 1.6 0 1 0 3.2 0a1.6 1.6 0 1 0 -3.2 0M420.90 132.30a1.6 1.6 0 1 0 3.2 0a1.6 1.6 0 1 0 -3.2 0M423.40 132.30a1.6 1.6 0 1 0 3.2 0a1.6 1.6 0 1 0 -3.2 0M421.90 134.00a1.6 1.6 0 1 0 3.2 0a1.6 1.6 0 1 0 -3.2 0M424.40 134.00a1.6 1.6 0 1 0 3.2 0a1.6 1.6 0 1 0 -3.2 0M419.40 136.10a1.6 1.6 0 1 0 3.2 0a1.6 1.6 0 1 0 -3.2 0M422.40 136.10a1.6 1.6 0 1 0 3.2 0a1.6 1.6 0 1 0 -3.2 0M425.40 136.10a1.6 1.6 0 1 0 3.2 0a1.6 1.6 0 1 0 -3.2 0M419.90 137.80a1.6 1.6 0 1 0 3.2 0a1.6 1.6 0 1 0 -3.2 0M422.60 137.80a1.6 1.6 0 1 0 3.2 0a1.6 1.6 0 1 0 -3.2 0M425.40 137.80a1.6 1.6 0 1 0 3.2 0a1.6 1.6 0 1 0 -3.2 0M421.90 139.50a1.6 1.6 0 1 0 3.2 0a1.6 1.6 0 1 0 -3.2 0M424.40 139.50a1.6 1.6 0 1 0 3.2 0a1.6 1.6 0 1 0 -3.2 0M420.40 141.30a1.6 1.6 0 1 0 3.2 0a1.6 1.6 0 1 0 -3.2 0M423.10 141.30a1.6 1.6 0 1 0 3.2 0a1.6 1.6 0 1 0 -3.2 0M425.90 141.30a1.6 1.6 0 1 0 3.2 0a1.6 1.6 0 1 0 -3.2 0M419.40 142.60a1.6 1.6 0 1 0 3.2 0a1.6 1.6 0 1 0 -3.2 0M422.40 142.60a1.6 1.6 0 1 0 3.2 0a1.6 1.6 0 1 0 -3.2 0M425.40 142.60a1.6 1.6 0 1 0 3.2 0a1.6 1.6 0 1 0 -3.2 0M420.40 144.40a1.6 1.6 0 1 0 3.2 0a1.6 1.6 0 1 0 -3.2 0M423.10 144.40a1.6 1.6 0 1 0 3.2 0a1.6 1.6 0 1 0 -3.2 0M425.70 144.40a1.6 1.6 0 1 0 3.2 0a1.6 1.6 0 1 0 -3.2 0M421.90 145.80a1.6 1.6 0 1 0 3.2 0a1.6 1.6 0 1 0 -3.2 0M424.40 145.80a1.6 1.6 0 1 0 3.2 0a1.6 1.6 0 1 0 -3.2 0M420.60 148.90a1.6 1.6 0 1 0 3.2 0a1.6 1.6 0 1 0 -3.2 0M422.90 148.90a1.6 1.6 0 1 0 3.2 0a1.6 1.6 0 1 0 -3.2 0M425.20 148.90a1.6 1.6 0 1 0 3.2 0a1.6 1.6 0 1 0 -3.2 0M415.50 151.90a1.6 1.6 0 1 0 3.2 0a1.6 1.6 0 1 0 -3.2 0M418.30 151.90a1.6 1.6 0 1 0 3.2 0a1.6 1.6 0 1 0 -3.2 0M421.10 151.90a1.6 1.6 0 1 0 3.2 0a1.6 1.6 0 1 0 -3.2 0M423.90 151.90a1.6 1.6 0 1 0 3.2 0a1.6 1.6 0 1 0 -3.2 0M426.70 151.90a1.6 1.6 0 1 0 3.2 0a1.6 1.6 0 1 0 -3.2 0M429.50 151.90a1.6 1.6 0 1 0 3.2 0a1.6 1.6 0 1 0 -3.2 0M418.90 153.60a1.6 1.6 0 1 0 3.2 0a1.6 1.6 0 1 0 -3.2 0M421.57 153.60a1.6 1.6 0 1 0 3.2 0a1.6 1.6 0 1 0 -3.2 0M424.23 153.60a1.6 1.6 0 1 0 3.2 0a1.6 1.6 0 1 0 -3.2 0M426.90 153.60a1.6 1.6 0 1 0 3.2 0a1.6 1.6 0 1 0 -3.2 0M421.70 154.90a1.6 1.6 0 1 0 3.2 0a1.6 1.6 0 1 0 -3.2 0M424.20 154.90a1.6 1.6 0 1 0 3.2 0a1.6 1.6 0 1 0 -3.2 0M474.10 76.40a1.6 1.6 0 1 0 3.2 0a1.6 1.6 0 1 0 -3.2 0M475.60 83.30a1.6 1.6 0 1 0 3.2 0a1.6 1.6 0 1 0 -3.2 0M473.90 84.80a1.6 1.6 0 1 0 3.2 0a1.6 1.6 0 1 0 -3.2 0M474.10 106.10a1.6 1.6 0 1 0 3.2 0a1.6 1.6 0 1 0 -3.2 0M474.10 109.60a1.6 1.6 0 1 0 3.2 0a1.6 1.6 0 1 0 -3.2 0M476.00 112.50a1.6 1.6 0 1 0 3.2 0a1.6 1.6 0 1 0 -3.2 0M473.90 114.80a1.6 1.6 0 1 0 3.2 0a1.6 1.6 0 1 0 -3.2 0M474.10 117.90a1.6 1.6 0 1 0 3.2 0a1.6 1.6 0 1 0 -3.2 0M474.10 121.00a1.6 1.6 0 1 0 3.2 0a1.6 1.6 0 1 0 -3.2 0M472.90 124.00a1.6 1.6 0 1 0 3.2 0a1.6 1.6 0 1 0 -3.2 0M475.90 124.00a1.6 1.6 0 1 0 3.2 0a1.6 1.6 0 1 0 -3.2 0M471.90 127.20a1.6 1.6 0 1 0 3.2 0a1.6 1.6 0 1 0 -3.2 0M474.40 127.20a1.6 1.6 0 1 0 3.2 0a1.6 1.6 0 1 0 -3.2 0M476.90 127.20a1.6 1.6 0 1 0 3.2 0a1.6 1.6 0 1 0 -3.2 0M472.90 129.50a1.6 1.6 0 1 0 3.2 0a1.6 1.6 0 1 0 -3.2 0M475.90 129.50a1.6 1.6 0 1 0 3.2 0a1.6 1.6 0 1 0 -3.2 0M472.20 135.60a1.6 1.6 0 1 0 3.2 0a1.6 1.6 0 1 0 -3.2 0M474.90 135.60a1.6 1.6 0 1 0 3.2 0a1.6 1.6 0 1 0 -3.2 0M477.40 135.60a1.6 1.6 0 1 0 3.2 0a1.6 1.6 0 1 0 -3.2 0M473.90 138.20a1.6 1.6 0 1 0 3.2 0a1.6 1.6 0 1 0 -3.2 0M476.40 138.20a1.6 1.6 0 1 0 3.2 0a1.6 1.6 0 1 0 -3.2 0M473.20 140.40a1.6 1.6 0 1 0 3.2 0a1.6 1.6 0 1 0 -3.2 0M475.70 140.40a1.6 1.6 0 1 0 3.2 0a1.6 1.6 0 1 0 -3.2 0M471.20 142.10a1.6 1.6 0 1 0 3.2 0a1.6 1.6 0 1 0 -3.2 0M474.15 142.10a1.6 1.6 0 1 0 3.2 0a1.6 1.6 0 1 0 -3.2 0M477.10 142.10a1.6 1.6 0 1 0 3.2 0a1.6 1.6 0 1 0 -3.2 0M467.30 143.80a1.6 1.6 0 1 0 3.2 0a1.6 1.6 0 1 0 -3.2 0M470.18 143.80a1.6 1.6 0 1 0 3.2 0a1.6 1.6 0 1 0 -3.2 0M473.05 143.80a1.6 1.6 0 1 0 3.2 0a1.6 1.6 0 1 0 -3.2 0M475.92 143.80a1.6 1.6 0 1 0 3.2 0a1.6 1.6 0 1 0 -3.2 0M478.80 143.80a1.6 1.6 0 1 0 3.2 0a1.6 1.6 0 1 0 -3.2 0M468.20 145.50a1.6 1.6 0 1 0 3.2 0a1.6 1.6 0 1 0 -3.2 0M471.27 145.50a1.6 1.6 0 1 0 3.2 0a1.6 1.6 0 1 0 -3.2 0M474.35 145.50a1.6 1.6 0 1 0 3.2 0a1.6 1.6 0 1 0 -3.2 0M477.42 145.50a1.6 1.6 0 1 0 3.2 0a1.6 1.6 0 1 0 -3.2 0M480.50 145.50a1.6 1.6 0 1 0 3.2 0a1.6 1.6 0 1 0 -3.2 0M471.60 149.40a1.6 1.6 0 1 0 3.2 0a1.6 1.6 0 1 0 -3.2 0M473.90 149.40a1.6 1.6 0 1 0 3.2 0a1.6 1.6 0 1 0 -3.2 0M476.20 149.40a1.6 1.6 0 1 0 3.2 0a1.6 1.6 0 1 0 -3.2 0M470.80 151.60a1.6 1.6 0 1 0 3.2 0a1.6 1.6 0 1 0 -3.2 0M474.15 151.60a1.6 1.6 0 1 0 3.2 0a1.6 1.6 0 1 0 -3.2 0M477.50 151.60a1.6 1.6 0 1 0 3.2 0a1.6 1.6 0 1 0 -3.2 0M471.90 153.30a1.6 1.6 0 1 0 3.2 0a1.6 1.6 0 1 0 -3.2 0M474.60 153.30a1.6 1.6 0 1 0 3.2 0a1.6 1.6 0 1 0 -3.2 0M477.20 153.30a1.6 1.6 0 1 0 3.2 0a1.6 1.6 0 1 0 -3.2 0M527.20 76.20a1.6 1.6 0 1 0 3.2 0a1.6 1.6 0 1 0 -3.2 0M525.40 78.10a1.6 1.6 0 1 0 3.2 0a1.6 1.6 0 1 0 -3.2 0M525.90 88.10a1.6 1.6 0 1 0 3.2 0a1.6 1.6 0 1 0 -3.2 0M527.20 92.30a1.6 1.6 0 1 0 3.2 0a1.6 1.6 0 1 0 -3.2 0M525.60 94.40a1.6 1.6 0 1 0 3.2 0a1.6 1.6 0 1 0 -3.2 0M527.20 101.10a1.6 1.6 0 1 0 3.2 0a1.6 1.6 0 1 0 -3.2 0M525.60 103.20a1.6 1.6 0 1 0 3.2 0a1.6 1.6 0 1 0 -3.2 0M525.80 105.80a1.6 1.6 0 1 0 3.2 0a1.6 1.6 0 1 0 -3.2 0M527.10 112.60a1.6 1.6 0 1 0 3.2 0a1.6 1.6 0 1 0 -3.2 0M524.60 115.20a1.6 1.6 0 1 0 3.2 0a1.6 1.6 0 1 0 -3.2 0M527.20 115.20a1.6 1.6 0 1 0 3.2 0a1.6 1.6 0 1 0 -3.2 0M529.40 115.20a1.6 1.6 0 1 0 3.2 0a1.6 1.6 0 1 0 -3.2 0M526.20 117.80a1.6 1.6 0 1 0 3.2 0a1.6 1.6 0 1 0 -3.2 0M528.60 117.80a1.6 1.6 0 1 0 3.2 0a1.6 1.6 0 1 0 -3.2 0M524.10 123.80a1.6 1.6 0 1 0 3.2 0a1.6 1.6 0 1 0 -3.2 0M526.20 125.50a1.6 1.6 0 1 0 3.2 0a1.6 1.6 0 1 0 -3.2 0M523.90 127.70a1.6 1.6 0 1 0 3.2 0a1.6 1.6 0 1 0 -3.2 0M526.40 127.70a1.6 1.6 0 1 0 3.2 0a1.6 1.6 0 1 0 -3.2 0M528.90 127.70a1.6 1.6 0 1 0 3.2 0a1.6 1.6 0 1 0 -3.2 0M523.90 129.40a1.6 1.6 0 1 0 3.2 0a1.6 1.6 0 1 0 -3.2 0M526.40 129.40a1.6 1.6 0 1 0 3.2 0a1.6 1.6 0 1 0 -3.2 0M528.90 129.40a1.6 1.6 0 1 0 3.2 0a1.6 1.6 0 1 0 -3.2 0M525.80 133.90a1.6 1.6 0 1 0 3.2 0a1.6 1.6 0 1 0 -3.2 0M522.90 137.30a1.6 1.6 0 1 0 3.2 0a1.6 1.6 0 1 0 -3.2 0M525.60 137.30a1.6 1.6 0 1 0 3.2 0a1.6 1.6 0 1 0 -3.2 0M528.40 137.30a1.6 1.6 0 1 0 3.2 0a1.6 1.6 0 1 0 -3.2 0M525.60 139.50a1.6 1.6 0 1 0 3.2 0a1.6 1.6 0 1 0 -3.2 0M528.00 139.50a1.6 1.6 0 1 0 3.2 0a1.6 1.6 0 1 0 -3.2 0M522.20 142.10a1.6 1.6 0 1 0 3.2 0a1.6 1.6 0 1 0 -3.2 0M525.75 142.10a1.6 1.6 0 1 0 3.2 0a1.6 1.6 0 1 0 -3.2 0M529.30 142.10a1.6 1.6 0 1 0 3.2 0a1.6 1.6 0 1 0 -3.2 0M523.60 143.80a1.6 1.6 0 1 0 3.2 0a1.6 1.6 0 1 0 -3.2 0M526.20 143.80a1.6 1.6 0 1 0 3.2 0a1.6 1.6 0 1 0 -3.2 0M528.70 143.80a1.6 1.6 0 1 0 3.2 0a1.6 1.6 0 1 0 -3.2 0M525.40 147.30a1.6 1.6 0 1 0 3.2 0a1.6 1.6 0 1 0 -3.2 0M527.90 147.30a1.6 1.6 0 1 0 3.2 0a1.6 1.6 0 1 0 -3.2 0M525.40 149.90a1.6 1.6 0 1 0 3.2 0a1.6 1.6 0 1 0 -3.2 0M528.10 149.90a1.6 1.6 0 1 0 3.2 0a1.6 1.6 0 1 0 -3.2 0M523.20 153.30a1.6 1.6 0 1 0 3.2 0a1.6 1.6 0 1 0 -3.2 0M526.00 153.30a1.6 1.6 0 1 0 3.2 0a1.6 1.6 0 1 0 -3.2 0M528.80 153.30a1.6 1.6 0 1 0 3.2 0a1.6 1.6 0 1 0 -3.2 0M525.40 154.60a1.6 1.6 0 1 0 3.2 0a1.6 1.6 0 1 0 -3.2 0M527.90 154.60a1.6 1.6 0 1 0 3.2 0a1.6 1.6 0 1 0 -3.2 0M74.90 439.10a1.6 1.6 0 1 0 3.2 0a1.6 1.6 0 1 0 -3.2 0M77.40 439.10a1.6 1.6 0 1 0 3.2 0a1.6 1.6 0 1 0 -3.2 0M74.10 441.20a1.6 1.6 0 1 0 3.2 0a1.6 1.6 0 1 0 -3.2 0M71.90 443.40a1.6 1.6 0 1 0 3.2 0a1.6 1.6 0 1 0 -3.2 0M74.60 443.40a1.6 1.6 0 1 0 3.2 0a1.6 1.6 0 1 0 -3.2 0M77.40 443.40a1.6 1.6 0 1 0 3.2 0a1.6 1.6 0 1 0 -3.2 0M72.90 445.50a1.6 1.6 0 1 0 3.2 0a1.6 1.6 0 1 0 -3.2 0M75.60 445.50a1.6 1.6 0 1 0 3.2 0a1.6 1.6 0 1 0 -3.2 0M77.90 445.50a1.6 1.6 0 1 0 3.2 0a1.6 1.6 0 1 0 -3.2 0M71.20 448.10a1.6 1.6 0 1 0 3.2 0a1.6 1.6 0 1 0 -3.2 0M73.90 448.10a1.6 1.6 0 1 0 3.2 0a1.6 1.6 0 1 0 -3.2 0M76.70 448.10a1.6 1.6 0 1 0 3.2 0a1.6 1.6 0 1 0 -3.2 0M72.70 450.70a1.6 1.6 0 1 0 3.2 0a1.6 1.6 0 1 0 -3.2 0M75.40 450.70a1.6 1.6 0 1 0 3.2 0a1.6 1.6 0 1 0 -3.2 0M72.20 452.90a1.6 1.6 0 1 0 3.2 0a1.6 1.6 0 1 0 -3.2 0M74.90 452.90a1.6 1.6 0 1 0 3.2 0a1.6 1.6 0 1 0 -3.2 0M77.40 452.90a1.6 1.6 0 1 0 3.2 0a1.6 1.6 0 1 0 -3.2 0M73.70 455.50a1.6 1.6 0 1 0 3.2 0a1.6 1.6 0 1 0 -3.2 0M76.40 455.50a1.6 1.6 0 1 0 3.2 0a1.6 1.6 0 1 0 -3.2 0M78.70 455.50a1.6 1.6 0 1 0 3.2 0a1.6 1.6 0 1 0 -3.2 0M74.40 457.60a1.6 1.6 0 1 0 3.2 0a1.6 1.6 0 1 0 -3.2 0M76.90 457.60a1.6 1.6 0 1 0 3.2 0a1.6 1.6 0 1 0 -3.2 0M74.40 460.20a1.6 1.6 0 1 0 3.2 0a1.6 1.6 0 1 0 -3.2 0M76.90 460.20a1.6 1.6 0 1 0 3.2 0a1.6 1.6 0 1 0 -3.2 0M72.40 463.20a1.6 1.6 0 1 0 3.2 0a1.6 1.6 0 1 0 -3.2 0M75.10 463.20a1.6 1.6 0 1 0 3.2 0a1.6 1.6 0 1 0 -3.2 0M77.70 463.20a1.6 1.6 0 1 0 3.2 0a1.6 1.6 0 1 0 -3.2 0M73.90 465.00a1.6 1.6 0 1 0 3.2 0a1.6 1.6 0 1 0 -3.2 0M76.40 465.00a1.6 1.6 0 1 0 3.2 0a1.6 1.6 0 1 0 -3.2 0M74.70 467.10a1.6 1.6 0 1 0 3.2 0a1.6 1.6 0 1 0 -3.2 0M77.20 467.10a1.6 1.6 0 1 0 3.2 0a1.6 1.6 0 1 0 -3.2 0M74.90 469.70a1.6 1.6 0 1 0 3.2 0a1.6 1.6 0 1 0 -3.2 0M74.80 480.60a1.6 1.6 0 1 0 3.2 0a1.6 1.6 0 1 0 -3.2 0M74.80 487.30a1.6 1.6 0 1 0 3.2 0a1.6 1.6 0 1 0 -3.2 0M123.60 440.20a1.6 1.6 0 1 0 3.2 0a1.6 1.6 0 1 0 -3.2 0M126.30 440.20a1.6 1.6 0 1 0 3.2 0a1.6 1.6 0 1 0 -3.2 0M129.00 440.20a1.6 1.6 0 1 0 3.2 0a1.6 1.6 0 1 0 -3.2 0M131.70 440.20a1.6 1.6 0 1 0 3.2 0a1.6 1.6 0 1 0 -3.2 0M124.90 441.90a1.6 1.6 0 1 0 3.2 0a1.6 1.6 0 1 0 -3.2 0M127.60 441.90a1.6 1.6 0 1 0 3.2 0a1.6 1.6 0 1 0 -3.2 0M130.40 441.90a1.6 1.6 0 1 0 3.2 0a1.6 1.6 0 1 0 -3.2 0M122.80 443.60a1.6 1.6 0 1 0 3.2 0a1.6 1.6 0 1 0 -3.2 0M126.03 443.60a1.6 1.6 0 1 0 3.2 0a1.6 1.6 0 1 0 -3.2 0M129.27 443.60a1.6 1.6 0 1 0 3.2 0a1.6 1.6 0 1 0 -3.2 0M132.50 443.60a1.6 1.6 0 1 0 3.2 0a1.6 1.6 0 1 0 -3.2 0M122.80 445.40a1.6 1.6 0 1 0 3.2 0a1.6 1.6 0 1 0 -3.2 0M125.47 445.40a1.6 1.6 0 1 0 3.2 0a1.6 1.6 0 1 0 -3.2 0M128.13 445.40a1.6 1.6 0 1 0 3.2 0a1.6 1.6 0 1 0 -3.2 0M130.80 445.40a1.6 1.6 0 1 0 3.2 0a1.6 1.6 0 1 0 -3.2 0M124.90 447.10a1.6 1.6 0 1 0 3.2 0a1.6 1.6 0 1 0 -3.2 0M127.60 447.10a1.6 1.6 0 1 0 3.2 0a1.6 1.6 0 1 0 -3.2 0M123.40 449.20a1.6 1.6 0 1 0 3.2 0a1.6 1.6 0 1 0 -3.2 0M126.10 449.20a1.6 1.6 0 1 0 3.2 0a1.6 1.6 0 1 0 -3.2 0M128.70 449.20a1.6 1.6 0 1 0 3.2 0a1.6 1.6 0 1 0 -3.2 0M124.40 451.40a1.6 1.6 0 1 0 3.2 0a1.6 1.6 0 1 0 -3.2 0M127.10 451.40a1.6 1.6 0 1 0 3.2 0a1.6 1.6 0 1 0 -3.2 0M129.40 451.40a1.6 1.6 0 1 0 3.2 0a1.6 1.6 0 1 0 -3.2 0M124.40 453.10a1.6 1.6 0 1 0 3.2 0a1.6 1.6 0 1 0 -3.2 0M126.90 453.10a1.6 1.6 0 1 0 3.2 0a1.6 1.6 0 1 0 -3.2 0M129.40 453.10a1.6 1.6 0 1 0 3.2 0a1.6 1.6 0 1 0 -3.2 0M123.40 455.30a1.6 1.6 0 1 0 3.2 0a1.6 1.6 0 1 0 -3.2 0M126.10 455.30a1.6 1.6 0 1 0 3.2 0a1.6 1.6 0 1 0 -3.2 0M128.70 455.30a1.6 1.6 0 1 0 3.2 0a1.6 1.6 0 1 0 -3.2 0M123.40 457.00a1.6 1.6 0 1 0 3.2 0a1.6 1.6 0 1 0 -3.2 0M126.10 457.00a1.6 1.6 0 1 0 3.2 0a1.6 1.6 0 1 0 -3.2 0M128.70 457.00a1.6 1.6 0 1 0 3.2 0a1.6 1.6 0 1 0 -3.2 0M124.50 459.20a1.6 1.6 0 1 0 3.2 0a1.6 1.6 0 1 0 -3.2 0M127.50 459.20a1.6 1.6 0 1 0 3.2 0a1.6 1.6 0 1 0 -3.2 0M130.50 459.20a1.6 1.6 0 1 0 3.2 0a1.6 1.6 0 1 0 -3.2 0M118.50 460.90a1.6 1.6 0 1 0 3.2 0a1.6 1.6 0 1 0 -3.2 0M121.14 460.90a1.6 1.6 0 1 0 3.2 0a1.6 1.6 0 1 0 -3.2 0M123.78 460.90a1.6 1.6 0 1 0 3.2 0a1.6 1.6 0 1 0 -3.2 0M126.42 460.90a1.6 1.6 0 1 0 3.2 0a1.6 1.6 0 1 0 -3.2 0M129.06 460.90a1.6 1.6 0 1 0 3.2 0a1.6 1.6 0 1 0 -3.2 0M131.70 460.90a1.6 1.6 0 1 0 3.2 0a1.6 1.6 0 1 0 -3.2 0M121.90 462.60a1.6 1.6 0 1 0 3.2 0a1.6 1.6 0 1 0 -3.2 0M124.55 462.60a1.6 1.6 0 1 0 3.2 0a1.6 1.6 0 1 0 -3.2 0M127.20 462.60a1.6 1.6 0 1 0 3.2 0a1.6 1.6 0 1 0 -3.2 0M129.85 462.60a1.6 1.6 0 1 0 3.2 0a1.6 1.6 0 1 0 -3.2 0M132.50 462.60a1.6 1.6 0 1 0 3.2 0a1.6 1.6 0 1 0 -3.2 0M125.40 464.40a1.6 1.6 0 1 0 3.2 0a1.6 1.6 0 1 0 -3.2 0M127.90 464.40a1.6 1.6 0 1 0 3.2 0a1.6 1.6 0 1 0 -3.2 0M126.40 466.50a1.6 1.6 0 1 0 3.2 0a1.6 1.6 0 1 0 -3.2 0M126.40 470.40a1.6 1.6 0 1 0 3.2 0a1.6 1.6 0 1 0 -3.2 0M126.40 475.60a1.6 1.6 0 1 0 3.2 0a1.6 1.6 0 1 0 -3.2 0M126.40 483.40a1.6 1.6 0 1 0 3.2 0a1.6 1.6 0 1 0 -3.2 0M126.40 497.50a1.6 1.6 0 1 0 3.2 0a1.6 1.6 0 1 0 -3.2 0M173.90 439.50a1.6 1.6 0 1 0 3.2 0a1.6 1.6 0 1 0 -3.2 0M176.90 439.50a1.6 1.6 0 1 0 3.2 0a1.6 1.6 0 1 0 -3.2 0M179.90 439.50a1.6 1.6 0 1 0 3.2 0a1.6 1.6 0 1 0 -3.2 0M181.90 439.50a1.6 1.6 0 1 0 3.2 0a1.6 1.6 0 1 0 -3.2 0M175.40 441.60a1.6 1.6 0 1 0 3.2 0a1.6 1.6 0 1 0 -3.2 0M178.10 441.60a1.6 1.6 0 1 0 3.2 0a1.6 1.6 0 1 0 -3.2 0M180.90 441.60a1.6 1.6 0 1 0 3.2 0a1.6 1.6 0 1 0 -3.2 0M176.90 443.20a1.6 1.6 0 1 0 3.2 0a1.6 1.6 0 1 0 -3.2 0M179.60 443.20a1.6 1.6 0 1 0 3.2 0a1.6 1.6 0 1 0 -3.2 0M174.00 446.30a1.6 1.6 0 1 0 3.2 0a1.6 1.6 0 1 0 -3.2 0M177.27 446.30a1.6 1.6 0 1 0 3.2 0a1.6 1.6 0 1 0 -3.2 0M180.53 446.30a1.6 1.6 0 1 0 3.2 0a1.6 1.6 0 1 0 -3.2 0M183.80 446.30a1.6 1.6 0 1 0 3.2 0a1.6 1.6 0 1 0 -3.2 0M175.40 447.80a1.6 1.6 0 1 0 3.2 0a1.6 1.6 0 1 0 -3.2 0M178.10 447.80a1.6 1.6 0 1 0 3.2 0a1.6 1.6 0 1 0 -3.2 0M180.90 447.80a1.6 1.6 0 1 0 3.2 0a1.6 1.6 0 1 0 -3.2 0M174.90 449.90a1.6 1.6 0 1 0 3.2 0a1.6 1.6 0 1 0 -3.2 0M177.60 449.90a1.6 1.6 0 1 0 3.2 0a1.6 1.6 0 1 0 -3.2 0M180.20 449.90a1.6 1.6 0 1 0 3.2 0a1.6 1.6 0 1 0 -3.2 0M173.90 452.50a1.6 1.6 0 1 0 3.2 0a1.6 1.6 0 1 0 -3.2 0M176.70 452.50a1.6 1.6 0 1 0 3.2 0a1.6 1.6 0 1 0 -3.2 0M179.50 452.50a1.6 1.6 0 1 0 3.2 0a1.6 1.6 0 1 0 -3.2 0M181.90 452.50a1.6 1.6 0 1 0 3.2 0a1.6 1.6 0 1 0 -3.2 0M176.90 455.10a1.6 1.6 0 1 0 3.2 0a1.6 1.6 0 1 0 -3.2 0M179.60 455.10a1.6 1.6 0 1 0 3.2 0a1.6 1.6 0 1 0 -3.2 0M176.40 457.20a1.6 1.6 0 1 0 3.2 0a1.6 1.6 0 1 0 -3.2 0M179.10 457.20a1.6 1.6 0 1 0 3.2 0a1.6 1.6 0 1 0 -3.2 0M181.90 457.20a1.6 1.6 0 1 0 3.2 0a1.6 1.6 0 1 0 -3.2 0M178.00 459.20a1.6 1.6 0 1 0 3.2 0a1.6 1.6 0 1 0 -3.2 0M176.40 463.40a1.6 1.6 0 1 0 3.2 0a1.6 1.6 0 1 0 -3.2 0M178.90 463.40a1.6 1.6 0 1 0 3.2 0a1.6 1.6 0 1 0 -3.2 0M177.90 465.00a1.6 1.6 0 1 0 3.2 0a1.6 1.6 0 1 0 -3.2 0M180.40 465.00a1.6 1.6 0 1 0 3.2 0a1.6 1.6 0 1 0 -3.2 0M178.00 468.00a1.6 1.6 0 1 0 3.2 0a1.6 1.6 0 1 0 -3.2 0M177.90 471.60a1.6 1.6 0 1 0 3.2 0a1.6 1.6 0 1 0 -3.2 0M177.90 485.90a1.6 1.6 0 1 0 3.2 0a1.6 1.6 0 1 0 -3.2 0M177.90 506.30a1.6 1.6 0 1 0 3.2 0a1.6 1.6 0 1 0 -3.2 0M229.60 439.50a1.6 1.6 0 1 0 3.2 0a1.6 1.6 0 1 0 -3.2 0M225.40 443.70a1.6 1.6 0 1 0 3.2 0a1.6 1.6 0 1 0 -3.2 0M227.90 443.70a1.6 1.6 0 1 0 3.2 0a1.6 1.6 0 1 0 -3.2 0M230.40 443.70a1.6 1.6 0 1 0 3.2 0a1.6 1.6 0 1 0 -3.2 0M227.90 445.80a1.6 1.6 0 1 0 3.2 0a1.6 1.6 0 1 0 -3.2 0M230.90 445.80a1.6 1.6 0 1 0 3.2 0a1.6 1.6 0 1 0 -3.2 0M228.40 449.40a1.6 1.6 0 1 0 3.2 0a1.6 1.6 0 1 0 -3.2 0M230.90 449.40a1.6 1.6 0 1 0 3.2 0a1.6 1.6 0 1 0 -3.2 0M227.90 452.00a1.6 1.6 0 1 0 3.2 0a1.6 1.6 0 1 0 -3.2 0M230.90 452.00a1.6 1.6 0 1 0 3.2 0a1.6 1.6 0 1 0 -3.2 0M224.90 455.50a1.6 1.6 0 1 0 3.2 0a1.6 1.6 0 1 0 -3.2 0M227.90 455.50a1.6 1.6 0 1 0 3.2 0a1.6 1.6 0 1 0 -3.2 0M230.90 455.50a1.6 1.6 0 1 0 3.2 0a1.6 1.6 0 1 0 -3.2 0M233.40 455.50a1.6 1.6 0 1 0 3.2 0a1.6 1.6 0 1 0 -3.2 0M224.90 457.50a1.6 1.6 0 1 0 3.2 0a1.6 1.6 0 1 0 -3.2 0M227.90 457.50a1.6 1.6 0 1 0 3.2 0a1.6 1.6 0 1 0 -3.2 0M230.90 457.50a1.6 1.6 0 1 0 3.2 0a1.6 1.6 0 1 0 -3.2 0M233.40 457.50a1.6 1.6 0 1 0 3.2 0a1.6 1.6 0 1 0 -3.2 0M227.40 459.20a1.6 1.6 0 1 0 3.2 0a1.6 1.6 0 1 0 -3.2 0M230.40 459.20a1.6 1.6 0 1 0 3.2 0a1.6 1.6 0 1 0 -3.2 0M232.90 459.20a1.6 1.6 0 1 0 3.2 0a1.6 1.6 0 1 0 -3.2 0M228.40 460.80a1.6 1.6 0 1 0 3.2 0a1.6 1.6 0 1 0 -3.2 0M230.90 460.80a1.6 1.6 0 1 0 3.2 0a1.6 1.6 0 1 0 -3.2 0M229.60 464.10a1.6 1.6 0 1 0 3.2 0a1.6 1.6 0 1 0 -3.2 0M229.60 466.40a1.6 1.6 0 1 0 3.2 0a1.6 1.6 0 1 0 -3.2 0M227.40 471.10a1.6 1.6 0 1 0 3.2 0a1.6 1.6 0 1 0 -3.2 0M229.90 471.10a1.6 1.6 0 1 0 3.2 0a1.6 1.6 0 1 0 -3.2 0M232.40 471.10a1.6 1.6 0 1 0 3.2 0a1.6 1.6 0 1 0 -3.2 0M229.60 477.30a1.6 1.6 0 1 0 3.2 0a1.6 1.6 0 1 0 -3.2 0M229.60 479.90a1.6 1.6 0 1 0 3.2 0a1.6 1.6 0 1 0 -3.2 0M229.60 487.60a1.6 1.6 0 1 0 3.2 0a1.6 1.6 0 1 0 -3.2 0M370.40 465.50a1.6 1.6 0 1 0 3.2 0a1.6 1.6 0 1 0 -3.2 0M373.00 465.50a1.6 1.6 0 1 0 3.2 0a1.6 1.6 0 1 0 -3.2 0M370.80 473.10a1.6 1.6 0 1 0 3.2 0a1.6 1.6 0 1 0 -3.2 0M367.20 476.50a1.6 1.6 0 1 0 3.2 0a1.6 1.6 0 1 0 -3.2 0M369.73 476.50a1.6 1.6 0 1 0 3.2 0a1.6 1.6 0 1 0 -3.2 0M372.27 476.50a1.6 1.6 0 1 0 3.2 0a1.6 1.6 0 1 0 -3.2 0M374.80 476.50a1.6 1.6 0 1 0 3.2 0a1.6 1.6 0 1 0 -3.2 0M368.50 480.80a1.6 1.6 0 1 0 3.2 0a1.6 1.6 0 1 0 -3.2 0M371.45 480.80a1.6 1.6 0 1 0 3.2 0a1.6 1.6 0 1 0 -3.2 0M374.40 480.80a1.6 1.6 0 1 0 3.2 0a1.6 1.6 0 1 0 -3.2 0M368.40 482.50a1.6 1.6 0 1 0 3.2 0a1.6 1.6 0 1 0 -3.2 0M371.00 482.50a1.6 1.6 0 1 0 3.2 0a1.6 1.6 0 1 0 -3.2 0M373.60 482.50a1.6 1.6 0 1 0 3.2 0a1.6 1.6 0 1 0 -3.2 0M368.00 486.00a1.6 1.6 0 1 0 3.2 0a1.6 1.6 0 1 0 -3.2 0M371.60 486.00a1.6 1.6 0 1 0 3.2 0a1.6 1.6 0 1 0 -3.2 0M375.20 486.00a1.6 1.6 0 1 0 3.2 0a1.6 1.6 0 1 0 -3.2 0M367.90 487.70a1.6 1.6 0 1 0 3.2 0a1.6 1.6 0 1 0 -3.2 0M370.80 487.70a1.6 1.6 0 1 0 3.2 0a1.6 1.6 0 1 0 -3.2 0M373.70 487.70a1.6 1.6 0 1 0 3.2 0a1.6 1.6 0 1 0 -3.2 0M369.10 489.40a1.6 1.6 0 1 0 3.2 0a1.6 1.6 0 1 0 -3.2 0M371.90 489.40a1.6 1.6 0 1 0 3.2 0a1.6 1.6 0 1 0 -3.2 0M367.60 492.90a1.6 1.6 0 1 0 3.2 0a1.6 1.6 0 1 0 -3.2 0M370.57 492.90a1.6 1.6 0 1 0 3.2 0a1.6 1.6 0 1 0 -3.2 0M373.55 492.90a1.6 1.6 0 1 0 3.2 0a1.6 1.6 0 1 0 -3.2 0M376.52 492.90a1.6 1.6 0 1 0 3.2 0a1.6 1.6 0 1 0 -3.2 0M379.50 492.90a1.6 1.6 0 1 0 3.2 0a1.6 1.6 0 1 0 -3.2 0M364.20 495.00a1.6 1.6 0 1 0 3.2 0a1.6 1.6 0 1 0 -3.2 0M367.07 495.00a1.6 1.6 0 1 0 3.2 0a1.6 1.6 0 1 0 -3.2 0M369.95 495.00a1.6 1.6 0 1 0 3.2 0a1.6 1.6 0 1 0 -3.2 0M372.82 495.00a1.6 1.6 0 1 0 3.2 0a1.6 1.6 0 1 0 -3.2 0M375.70 495.00a1.6 1.6 0 1 0 3.2 0a1.6 1.6 0 1 0 -3.2 0M366.80 496.80a1.6 1.6 0 1 0 3.2 0a1.6 1.6 0 1 0 -3.2 0M370.35 496.80a1.6 1.6 0 1 0 3.2 0a1.6 1.6 0 1 0 -3.2 0M373.90 496.80a1.6 1.6 0 1 0 3.2 0a1.6 1.6 0 1 0 -3.2 0M367.60 498.90a1.6 1.6 0 1 0 3.2 0a1.6 1.6 0 1 0 -3.2 0M371.00 498.90a1.6 1.6 0 1 0 3.2 0a1.6 1.6 0 1 0 -3.2 0M374.40 498.90a1.6 1.6 0 1 0 3.2 0a1.6 1.6 0 1 0 -3.2 0M367.60 500.70a1.6 1.6 0 1 0 3.2 0a1.6 1.6 0 1 0 -3.2 0M371.00 500.70a1.6 1.6 0 1 0 3.2 0a1.6 1.6 0 1 0 -3.2 0M374.40 500.70a1.6 1.6 0 1 0 3.2 0a1.6 1.6 0 1 0 -3.2 0M365.00 502.80a1.6 1.6 0 1 0 3.2 0a1.6 1.6 0 1 0 -3.2 0M368.13 502.80a1.6 1.6 0 1 0 3.2 0a1.6 1.6 0 1 0 -3.2 0M371.27 502.80a1.6 1.6 0 1 0 3.2 0a1.6 1.6 0 1 0 -3.2 0M374.40 502.80a1.6 1.6 0 1 0 3.2 0a1.6 1.6 0 1 0 -3.2 0M366.80 504.50a1.6 1.6 0 1 0 3.2 0a1.6 1.6 0 1 0 -3.2 0M369.47 504.50a1.6 1.6 0 1 0 3.2 0a1.6 1.6 0 1 0 -3.2 0M372.13 504.50a1.6 1.6 0 1 0 3.2 0a1.6 1.6 0 1 0 -3.2 0M374.80 504.50a1.6 1.6 0 1 0 3.2 0a1.6 1.6 0 1 0 -3.2 0M367.60 506.70a1.6 1.6 0 1 0 3.2 0a1.6 1.6 0 1 0 -3.2 0M370.75 506.70a1.6 1.6 0 1 0 3.2 0a1.6 1.6 0 1 0 -3.2 0M373.90 506.70a1.6 1.6 0 1 0 3.2 0a1.6 1.6 0 1 0 -3.2 0M369.70 508.40a1.6 1.6 0 1 0 3.2 0a1.6 1.6 0 1 0 -3.2 0M372.20 508.40a1.6 1.6 0 1 0 3.2 0a1.6 1.6 0 1 0 -3.2 0M370.90 510.60a1.6 1.6 0 1 0 3.2 0a1.6 1.6 0 1 0 -3.2 0M373.40 510.60a1.6 1.6 0 1 0 3.2 0a1.6 1.6 0 1 0 -3.2 0M367.20 514.50a1.6 1.6 0 1 0 3.2 0a1.6 1.6 0 1 0 -3.2 0M369.73 514.50a1.6 1.6 0 1 0 3.2 0a1.6 1.6 0 1 0 -3.2 0M372.27 514.50a1.6 1.6 0 1 0 3.2 0a1.6 1.6 0 1 0 -3.2 0M374.80 514.50a1.6 1.6 0 1 0 3.2 0a1.6 1.6 0 1 0 -3.2 0M368.20 516.20a1.6 1.6 0 1 0 3.2 0a1.6 1.6 0 1 0 -3.2 0M370.80 516.20a1.6 1.6 0 1 0 3.2 0a1.6 1.6 0 1 0 -3.2 0M373.40 516.20a1.6 1.6 0 1 0 3.2 0a1.6 1.6 0 1 0 -3.2 0M419.90 465.70a1.6 1.6 0 1 0 3.2 0a1.6 1.6 0 1 0 -3.2 0M422.90 465.70a1.6 1.6 0 1 0 3.2 0a1.6 1.6 0 1 0 -3.2 0M425.90 465.70a1.6 1.6 0 1 0 3.2 0a1.6 1.6 0 1 0 -3.2 0M419.50 467.80a1.6 1.6 0 1 0 3.2 0a1.6 1.6 0 1 0 -3.2 0M422.90 467.80a1.6 1.6 0 1 0 3.2 0a1.6 1.6 0 1 0 -3.2 0M426.30 467.80a1.6 1.6 0 1 0 3.2 0a1.6 1.6 0 1 0 -3.2 0M418.50 470.40a1.6 1.6 0 1 0 3.2 0a1.6 1.6 0 1 0 -3.2 0M421.10 470.40a1.6 1.6 0 1 0 3.2 0a1.6 1.6 0 1 0 -3.2 0M423.70 470.40a1.6 1.6 0 1 0 3.2 0a1.6 1.6 0 1 0 -3.2 0M426.30 470.40a1.6 1.6 0 1 0 3.2 0a1.6 1.6 0 1 0 -3.2 0M419.40 473.00a1.6 1.6 0 1 0 3.2 0a1.6 1.6 0 1 0 -3.2 0M422.40 473.00a1.6 1.6 0 1 0 3.2 0a1.6 1.6 0 1 0 -3.2 0M425.40 473.00a1.6 1.6 0 1 0 3.2 0a1.6 1.6 0 1 0 -3.2 0M418.50 474.50a1.6 1.6 0 1 0 3.2 0a1.6 1.6 0 1 0 -3.2 0M421.10 474.50a1.6 1.6 0 1 0 3.2 0a1.6 1.6 0 1 0 -3.2 0M423.70 474.50a1.6 1.6 0 1 0 3.2 0a1.6 1.6 0 1 0 -3.2 0M426.30 474.50a1.6 1.6 0 1 0 3.2 0a1.6 1.6 0 1 0 -3.2 0M421.40 477.10a1.6 1.6 0 1 0 3.2 0a1.6 1.6 0 1 0 -3.2 0M424.40 477.10a1.6 1.6 0 1 0 3.2 0a1.6 1.6 0 1 0 -3.2 0M419.00 480.20a1.6 1.6 0 1 0 3.2 0a1.6 1.6 0 1 0 -3.2 0M422.40 480.20a1.6 1.6 0 1 0 3.2 0a1.6 1.6 0 1 0 -3.2 0M425.80 480.20a1.6 1.6 0 1 0 3.2 0a1.6 1.6 0 1 0 -3.2 0M419.40 482.30a1.6 1.6 0 1 0 3.2 0a1.6 1.6 0 1 0 -3.2 0M422.40 482.30a1.6 1.6 0 1 0 3.2 0a1.6 1.6 0 1 0 -3.2 0M425.40 482.30a1.6 1.6 0 1 0 3.2 0a1.6 1.6 0 1 0 -3.2 0M419.00 484.40a1.6 1.6 0 1 0 3.2 0a1.6 1.6 0 1 0 -3.2 0M421.43 484.40a1.6 1.6 0 1 0 3.2 0a1.6 1.6 0 1 0 -3.2 0M423.87 484.40a1.6 1.6 0 1 0 3.2 0a1.6 1.6 0 1 0 -3.2 0M426.30 484.40a1.6 1.6 0 1 0 3.2 0a1.6 1.6 0 1 0 -3.2 0M421.40 486.90a1.6 1.6 0 1 0 3.2 0a1.6 1.6 0 1 0 -3.2 0M424.40 486.90a1.6 1.6 0 1 0 3.2 0a1.6 1.6 0 1 0 -3.2 0M419.50 489.00a1.6 1.6 0 1 0 3.2 0a1.6 1.6 0 1 0 -3.2 0M422.90 489.00a1.6 1.6 0 1 0 3.2 0a1.6 1.6 0 1 0 -3.2 0M426.30 489.00a1.6 1.6 0 1 0 3.2 0a1.6 1.6 0 1 0 -3.2 0M419.50 491.10a1.6 1.6 0 1 0 3.2 0a1.6 1.6 0 1 0 -3.2 0M422.65 491.10a1.6 1.6 0 1 0 3.2 0a1.6 1.6 0 1 0 -3.2 0M425.80 491.10a1.6 1.6 0 1 0 3.2 0a1.6 1.6 0 1 0 -3.2 0M415.40 495.20a1.6 1.6 0 1 0 3.2 0a1.6 1.6 0 1 0 -3.2 0M418.15 495.20a1.6 1.6 0 1 0 3.2 0a1.6 1.6 0 1 0 -3.2 0M420.90 495.20a1.6 1.6 0 1 0 3.2 0a1.6 1.6 0 1 0 -3.2 0M423.65 495.20a1.6 1.6 0 1 0 3.2 0a1.6 1.6 0 1 0 -3.2 0M426.40 495.20a1.6 1.6 0 1 0 3.2 0a1.6 1.6 0 1 0 -3.2 0M429.15 495.20a1.6 1.6 0 1 0 3.2 0a1.6 1.6 0 1 0 -3.2 0M431.90 495.20a1.6 1.6 0 1 0 3.2 0a1.6 1.6 0 1 0 -3.2 0M417.50 497.30a1.6 1.6 0 1 0 3.2 0a1.6 1.6 0 1 0 -3.2 0M420.32 497.30a1.6 1.6 0 1 0 3.2 0a1.6 1.6 0 1 0 -3.2 0M423.15 497.30a1.6 1.6 0 1 0 3.2 0a1.6 1.6 0 1 0 -3.2 0M425.97 497.30a1.6 1.6 0 1 0 3.2 0a1.6 1.6 0 1 0 -3.2 0M428.80 497.30a1.6 1.6 0 1 0 3.2 0a1.6 1.6 0 1 0 -3.2 0M417.50 499.40a1.6 1.6 0 1 0 3.2 0a1.6 1.6 0 1 0 -3.2 0M420.20 499.40a1.6 1.6 0 1 0 3.2 0a1.6 1.6 0 1 0 -3.2 0M422.90 499.40a1.6 1.6 0 1 0 3.2 0a1.6 1.6 0 1 0 -3.2 0M425.60 499.40a1.6 1.6 0 1 0 3.2 0a1.6 1.6 0 1 0 -3.2 0M428.30 499.40a1.6 1.6 0 1 0 3.2 0a1.6 1.6 0 1 0 -3.2 0M419.50 501.50a1.6 1.6 0 1 0 3.2 0a1.6 1.6 0 1 0 -3.2 0M422.90 501.50a1.6 1.6 0 1 0 3.2 0a1.6 1.6 0 1 0 -3.2 0M426.30 501.50a1.6 1.6 0 1 0 3.2 0a1.6 1.6 0 1 0 -3.2 0M419.40 503.50a1.6 1.6 0 1 0 3.2 0a1.6 1.6 0 1 0 -3.2 0M422.40 503.50a1.6 1.6 0 1 0 3.2 0a1.6 1.6 0 1 0 -3.2 0M425.40 503.50a1.6 1.6 0 1 0 3.2 0a1.6 1.6 0 1 0 -3.2 0M416.50 506.10a1.6 1.6 0 1 0 3.2 0a1.6 1.6 0 1 0 -3.2 0M419.57 506.10a1.6 1.6 0 1 0 3.2 0a1.6 1.6 0 1 0 -3.2 0M422.65 506.10a1.6 1.6 0 1 0 3.2 0a1.6 1.6 0 1 0 -3.2 0M425.72 506.10a1.6 1.6 0 1 0 3.2 0a1.6 1.6 0 1 0 -3.2 0M428.80 506.10a1.6 1.6 0 1 0 3.2 0a1.6 1.6 0 1 0 -3.2 0M419.40 508.20a1.6 1.6 0 1 0 3.2 0a1.6 1.6 0 1 0 -3.2 0M422.40 508.20a1.6 1.6 0 1 0 3.2 0a1.6 1.6 0 1 0 -3.2 0M425.40 508.20a1.6 1.6 0 1 0 3.2 0a1.6 1.6 0 1 0 -3.2 0M411.30 510.80a1.6 1.6 0 1 0 3.2 0a1.6 1.6 0 1 0 -3.2 0M414.39 510.80a1.6 1.6 0 1 0 3.2 0a1.6 1.6 0 1 0 -3.2 0M417.47 510.80a1.6 1.6 0 1 0 3.2 0a1.6 1.6 0 1 0 -3.2 0M420.56 510.80a1.6 1.6 0 1 0 3.2 0a1.6 1.6 0 1 0 -3.2 0M423.64 510.80a1.6 1.6 0 1 0 3.2 0a1.6 1.6 0 1 0 -3.2 0M426.73 510.80a1.6 1.6 0 1 0 3.2 0a1.6 1.6 0 1 0 -3.2 0M429.81 510.80a1.6 1.6 0 1 0 3.2 0a1.6 1.6 0 1 0 -3.2 0M432.90 510.80a1.6 1.6 0 1 0 3.2 0a1.6 1.6 0 1 0 -3.2 0M417.50 512.30a1.6 1.6 0 1 0 3.2 0a1.6 1.6 0 1 0 -3.2 0M420.32 512.30a1.6 1.6 0 1 0 3.2 0a1.6 1.6 0 1 0 -3.2 0M423.15 512.30a1.6 1.6 0 1 0 3.2 0a1.6 1.6 0 1 0 -3.2 0M425.97 512.30a1.6 1.6 0 1 0 3.2 0a1.6 1.6 0 1 0 -3.2 0M428.80 512.30a1.6 1.6 0 1 0 3.2 0a1.6 1.6 0 1 0 -3.2 0M419.90 514.40a1.6 1.6 0 1 0 3.2 0a1.6 1.6 0 1 0 -3.2 0M422.90 514.40a1.6 1.6 0 1 0 3.2 0a1.6 1.6 0 1 0 -3.2 0M425.40 514.40a1.6 1.6 0 1 0 3.2 0a1.6 1.6 0 1 0 -3.2 0M422.40 516.00a1.6 1.6 0 1 0 3.2 0a1.6 1.6 0 1 0 -3.2 0M472.90 464.70a1.6 1.6 0 1 0 3.2 0a1.6 1.6 0 1 0 -3.2 0M475.90 464.70a1.6 1.6 0 1 0 3.2 0a1.6 1.6 0 1 0 -3.2 0M472.90 466.80a1.6 1.6 0 1 0 3.2 0a1.6 1.6 0 1 0 -3.2 0M475.90 466.80a1.6 1.6 0 1 0 3.2 0a1.6 1.6 0 1 0 -3.2 0M472.50 475.60a1.6 1.6 0 1 0 3.2 0a1.6 1.6 0 1 0 -3.2 0M475.20 475.60a1.6 1.6 0 1 0 3.2 0a1.6 1.6 0 1 0 -3.2 0M477.90 475.60a1.6 1.6 0 1 0 3.2 0a1.6 1.6 0 1 0 -3.2 0M473.40 476.90a1.6 1.6 0 1 0 3.2 0a1.6 1.6 0 1 0 -3.2 0M476.00 476.90a1.6 1.6 0 1 0 3.2 0a1.6 1.6 0 1 0 -3.2 0M468.60 479.50a1.6 1.6 0 1 0 3.2 0a1.6 1.6 0 1 0 -3.2 0M471.38 479.50a1.6 1.6 0 1 0 3.2 0a1.6 1.6 0 1 0 -3.2 0M474.15 479.50a1.6 1.6 0 1 0 3.2 0a1.6 1.6 0 1 0 -3.2 0M476.92 479.50a1.6 1.6 0 1 0 3.2 0a1.6 1.6 0 1 0 -3.2 0M479.70 479.50a1.6 1.6 0 1 0 3.2 0a1.6 1.6 0 1 0 -3.2 0M469.50 481.20a1.6 1.6 0 1 0 3.2 0a1.6 1.6 0 1 0 -3.2 0M472.73 481.20a1.6 1.6 0 1 0 3.2 0a1.6 1.6 0 1 0 -3.2 0M475.97 481.20a1.6 1.6 0 1 0 3.2 0a1.6 1.6 0 1 0 -3.2 0M479.20 481.20a1.6 1.6 0 1 0 3.2 0a1.6 1.6 0 1 0 -3.2 0M469.50 483.00a1.6 1.6 0 1 0 3.2 0a1.6 1.6 0 1 0 -3.2 0M472.47 483.00a1.6 1.6 0 1 0 3.2 0a1.6 1.6 0 1 0 -3.2 0M475.43 483.00a1.6 1.6 0 1 0 3.2 0a1.6 1.6 0 1 0 -3.2 0M478.40 483.00a1.6 1.6 0 1 0 3.2 0a1.6 1.6 0 1 0 -3.2 0M468.60 486.80a1.6 1.6 0 1 0 3.2 0a1.6 1.6 0 1 0 -3.2 0M471.25 486.80a1.6 1.6 0 1 0 3.2 0a1.6 1.6 0 1 0 -3.2 0M473.90 486.80a1.6 1.6 0 1 0 3.2 0a1.6 1.6 0 1 0 -3.2 0M476.55 486.80a1.6 1.6 0 1 0 3.2 0a1.6 1.6 0 1 0 -3.2 0M479.20 486.80a1.6 1.6 0 1 0 3.2 0a1.6 1.6 0 1 0 -3.2 0M468.60 488.60a1.6 1.6 0 1 0 3.2 0a1.6 1.6 0 1 0 -3.2 0M471.70 488.60a1.6 1.6 0 1 0 3.2 0a1.6 1.6 0 1 0 -3.2 0M474.80 488.60a1.6 1.6 0 1 0 3.2 0a1.6 1.6 0 1 0 -3.2 0M477.90 488.60a1.6 1.6 0 1 0 3.2 0a1.6 1.6 0 1 0 -3.2 0M481.00 488.60a1.6 1.6 0 1 0 3.2 0a1.6 1.6 0 1 0 -3.2 0M469.50 490.30a1.6 1.6 0 1 0 3.2 0a1.6 1.6 0 1 0 -3.2 0M472.60 490.30a1.6 1.6 0 1 0 3.2 0a1.6 1.6 0 1 0 -3.2 0M475.70 490.30a1.6 1.6 0 1 0 3.2 0a1.6 1.6 0 1 0 -3.2 0M478.80 490.30a1.6 1.6 0 1 0 3.2 0a1.6 1.6 0 1 0 -3.2 0M469.90 492.50a1.6 1.6 0 1 0 3.2 0a1.6 1.6 0 1 0 -3.2 0M473.50 492.50a1.6 1.6 0 1 0 3.2 0a1.6 1.6 0 1 0 -3.2 0M477.10 492.50a1.6 1.6 0 1 0 3.2 0a1.6 1.6 0 1 0 -3.2 0M471.60 494.60a1.6 1.6 0 1 0 3.2 0a1.6 1.6 0 1 0 -3.2 0M474.35 494.60a1.6 1.6 0 1 0 3.2 0a1.6 1.6 0 1 0 -3.2 0M477.10 494.60a1.6 1.6 0 1 0 3.2 0a1.6 1.6 0 1 0 -3.2 0M473.40 496.80a1.6 1.6 0 1 0 3.2 0a1.6 1.6 0 1 0 -3.2 0M477.50 496.80a1.6 1.6 0 1 0 3.2 0a1.6 1.6 0 1 0 -3.2 0M472.50 498.90a1.6 1.6 0 1 0 3.2 0a1.6 1.6 0 1 0 -3.2 0M475.80 498.90a1.6 1.6 0 1 0 3.2 0a1.6 1.6 0 1 0 -3.2 0M472.50 500.70a1.6 1.6 0 1 0 3.2 0a1.6 1.6 0 1 0 -3.2 0M476.20 500.70a1.6 1.6 0 1 0 3.2 0a1.6 1.6 0 1 0 -3.2 0M470.30 502.80a1.6 1.6 0 1 0 3.2 0a1.6 1.6 0 1 0 -3.2 0M473.05 502.80a1.6 1.6 0 1 0 3.2 0a1.6 1.6 0 1 0 -3.2 0M475.80 502.80a1.6 1.6 0 1 0 3.2 0a1.6 1.6 0 1 0 -3.2 0M471.20 504.50a1.6 1.6 0 1 0 3.2 0a1.6 1.6 0 1 0 -3.2 0M473.50 504.50a1.6 1.6 0 1 0 3.2 0a1.6 1.6 0 1 0 -3.2 0M475.80 504.50a1.6 1.6 0 1 0 3.2 0a1.6 1.6 0 1 0 -3.2 0M471.60 506.70a1.6 1.6 0 1 0 3.2 0a1.6 1.6 0 1 0 -3.2 0M475.80 506.70a1.6 1.6 0 1 0 3.2 0a1.6 1.6 0 1 0 -3.2 0M473.60 508.90a1.6 1.6 0 1 0 3.2 0a1.6 1.6 0 1 0 -3.2 0M475.90 508.90a1.6 1.6 0 1 0 3.2 0a1.6 1.6 0 1 0 -3.2 0M474.20 511.00a1.6 1.6 0 1 0 3.2 0a1.6 1.6 0 1 0 -3.2 0M473.90 513.20a1.6 1.6 0 1 0 3.2 0a1.6 1.6 0 1 0 -3.2 0M473.90 514.90a1.6 1.6 0 1 0 3.2 0a1.6 1.6 0 1 0 -3.2 0M525.80 466.70a1.6 1.6 0 1 0 3.2 0a1.6 1.6 0 1 0 -3.2 0M524.90 476.60a1.6 1.6 0 1 0 3.2 0a1.6 1.6 0 1 0 -3.2 0M527.90 476.60a1.6 1.6 0 1 0 3.2 0a1.6 1.6 0 1 0 -3.2 0M522.40 482.30a1.6 1.6 0 1 0 3.2 0a1.6 1.6 0 1 0 -3.2 0M525.40 482.30a1.6 1.6 0 1 0 3.2 0a1.6 1.6 0 1 0 -3.2 0M527.90 482.30a1.6 1.6 0 1 0 3.2 0a1.6 1.6 0 1 0 -3.2 0M523.40 484.40a1.6 1.6 0 1 0 3.2 0a1.6 1.6 0 1 0 -3.2 0M525.90 484.40a1.6 1.6 0 1 0 3.2 0a1.6 1.6 0 1 0 -3.2 0M528.40 484.40a1.6 1.6 0 1 0 3.2 0a1.6 1.6 0 1 0 -3.2 0M524.40 486.90a1.6 1.6 0 1 0 3.2 0a1.6 1.6 0 1 0 -3.2 0M527.40 486.90a1.6 1.6 0 1 0 3.2 0a1.6 1.6 0 1 0 -3.2 0M524.40 489.00a1.6 1.6 0 1 0 3.2 0a1.6 1.6 0 1 0 -3.2 0M527.40 489.00a1.6 1.6 0 1 0 3.2 0a1.6 1.6 0 1 0 -3.2 0M523.40 491.10a1.6 1.6 0 1 0 3.2 0a1.6 1.6 0 1 0 -3.2 0M526.40 491.10a1.6 1.6 0 1 0 3.2 0a1.6 1.6 0 1 0 -3.2 0M528.90 491.10a1.6 1.6 0 1 0 3.2 0a1.6 1.6 0 1 0 -3.2 0M523.00 493.70a1.6 1.6 0 1 0 3.2 0a1.6 1.6 0 1 0 -3.2 0M526.40 493.70a1.6 1.6 0 1 0 3.2 0a1.6 1.6 0 1 0 -3.2 0M529.80 493.70a1.6 1.6 0 1 0 3.2 0a1.6 1.6 0 1 0 -3.2 0M522.90 495.80a1.6 1.6 0 1 0 3.2 0a1.6 1.6 0 1 0 -3.2 0M525.90 495.80a1.6 1.6 0 1 0 3.2 0a1.6 1.6 0 1 0 -3.2 0M528.90 495.80a1.6 1.6 0 1 0 3.2 0a1.6 1.6 0 1 0 -3.2 0M524.90 497.80a1.6 1.6 0 1 0 3.2 0a1.6 1.6 0 1 0 -3.2 0M527.40 497.80a1.6 1.6 0 1 0 3.2 0a1.6 1.6 0 1 0 -3.2 0M522.50 502.50a1.6 1.6 0 1 0 3.2 0a1.6 1.6 0 1 0 -3.2 0M525.40 502.50a1.6 1.6 0 1 0 3.2 0a1.6 1.6 0 1 0 -3.2 0M528.30 502.50a1.6 1.6 0 1 0 3.2 0a1.6 1.6 0 1 0 -3.2 0M523.40 504.60a1.6 1.6 0 1 0 3.2 0a1.6 1.6 0 1 0 -3.2 0M526.40 504.60a1.6 1.6 0 1 0 3.2 0a1.6 1.6 0 1 0 -3.2 0M528.90 504.60a1.6 1.6 0 1 0 3.2 0a1.6 1.6 0 1 0 -3.2 0M523.90 506.60a1.6 1.6 0 1 0 3.2 0a1.6 1.6 0 1 0 -3.2 0M526.90 506.60a1.6 1.6 0 1 0 3.2 0a1.6 1.6 0 1 0 -3.2 0M529.40 506.60a1.6 1.6 0 1 0 3.2 0a1.6 1.6 0 1 0 -3.2 0M520.50 508.70a1.6 1.6 0 1 0 3.2 0a1.6 1.6 0 1 0 -3.2 0M522.93 508.70a1.6 1.6 0 1 0 3.2 0a1.6 1.6 0 1 0 -3.2 0M525.37 508.70a1.6 1.6 0 1 0 3.2 0a1.6 1.6 0 1 0 -3.2 0M527.80 508.70a1.6 1.6 0 1 0 3.2 0a1.6 1.6 0 1 0 -3.2 0M522.90 510.80a1.6 1.6 0 1 0 3.2 0a1.6 1.6 0 1 0 -3.2 0M525.90 510.80a1.6 1.6 0 1 0 3.2 0a1.6 1.6 0 1 0 -3.2 0M528.90 510.80a1.6 1.6 0 1 0 3.2 0a1.6 1.6 0 1 0 -3.2 0M524.40 512.80a1.6 1.6 0 1 0 3.2 0a1.6 1.6 0 1 0 -3.2 0M526.90 512.80a1.6 1.6 0 1 0 3.2 0a1.6 1.6 0 1 0 -3.2 0M524.40 514.90a1.6 1.6 0 1 0 3.2 0a1.6 1.6 0 1 0 -3.2 0M527.40 514.90a1.6 1.6 0 1 0 3.2 0a1.6 1.6 0 1 0 -3.2 0M525.40 517.00a1.6 1.6 0 1 0 3.2 0a1.6 1.6 0 1 0 -3.2 0M527.40 517.00a1.6 1.6 0 1 0 3.2 0a1.6 1.6 0 1 0 -3.2 0"/>
<line x1="60.40" y1="148.20" x2="92.40" y2="148.20" stroke="#000" stroke-width="1.7"/>
<line x1="112.00" y1="153.30" x2="144.00" y2="153.30" stroke="#000" stroke-width="1.7"/>
<line x1="163.60" y1="157.20" x2="195.60" y2="157.20" stroke="#000" stroke-width="1.7"/>
<line x1="215.20" y1="160.10" x2="247.20" y2="160.10" stroke="#000" stroke-width="1.7"/>
<line x1="356.40" y1="148.20" x2="388.40" y2="148.20" stroke="#000" stroke-width="1.7"/>
<line x1="408.00" y1="147.40" x2="440.00" y2="147.40" stroke="#000" stroke-width="1.7"/>
<line x1="459.60" y1="148.30" x2="491.60" y2="148.30" stroke="#000" stroke-width="1.7"/>
<line x1="511.20" y1="135.90" x2="543.20" y2="135.90" stroke="#000" stroke-width="1.7"/>
<line x1="60.40" y1="432.50" x2="92.40" y2="432.50" stroke="#000" stroke-width="1.7"/>
<line x1="112.00" y1="436.20" x2="144.00" y2="436.20" stroke="#000" stroke-width="1.7"/>
<line x1="163.60" y1="436.40" x2="195.60" y2="436.40" stroke="#000" stroke-width="1.7"/>
<line x1="215.20" y1="444.40" x2="247.20" y2="444.40" stroke="#000" stroke-width="1.7"/>
<line x1="356.40" y1="490.90" x2="388.40" y2="490.90" stroke="#000" stroke-width="1.7"/>
<line x1="408.00" y1="493.40" x2="440.00" y2="493.40" stroke="#000" stroke-width="1.7"/>
<line x1="459.60" y1="485.30" x2="491.60" y2="485.30" stroke="#000" stroke-width="1.7"/>
<line x1="511.20" y1="500.90" x2="543.20" y2="500.90" stroke="#000" stroke-width="1.7"/>
</svg>
</body></html>
